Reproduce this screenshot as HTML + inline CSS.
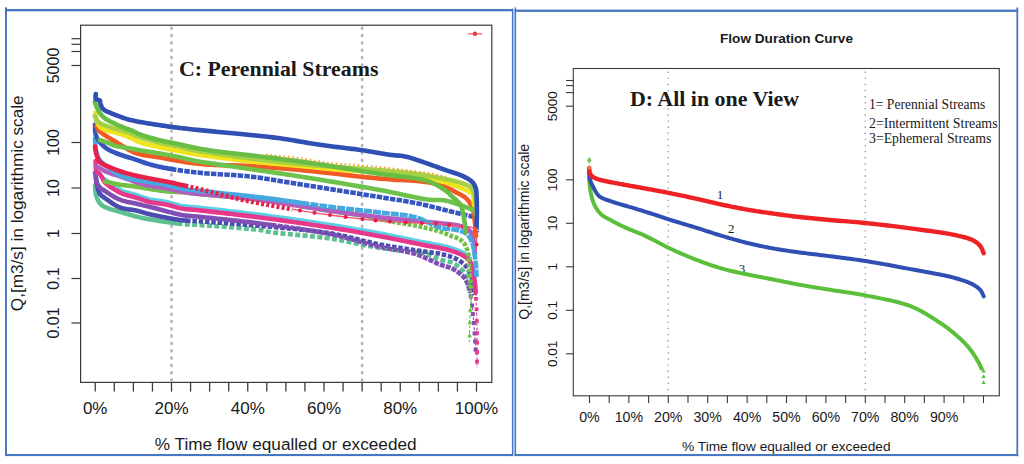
<!DOCTYPE html>
<html><head><meta charset="utf-8"><style>
html,body{margin:0;padding:0;background:#fff;width:1024px;height:464px;overflow:hidden}
svg{display:block}
text{font-family:"Liberation Sans",sans-serif;fill:#1a1a1a}
.lt{font-size:17px;text-anchor:middle}
.lyt{font-size:16px;text-anchor:middle}
.lyT{font-size:17.2px;text-anchor:middle}
.lxT{font-size:17.2px;text-anchor:middle}
.rt{font-size:14.2px;text-anchor:middle}
.ryt{font-size:13.6px;text-anchor:middle}
.ryT{font-size:14px;text-anchor:middle}
.rxT{font-size:13.7px;text-anchor:middle}
.ft{font-size:13.6px;font-weight:bold;text-anchor:middle}
.ttl{font-family:"Liberation Serif",serif;font-weight:bold;font-size:21.85px}
.ttl2{font-family:"Liberation Serif",serif;font-weight:bold;font-size:21.9px}
.lg{font-family:"Liberation Serif",serif;font-size:13.6px}
.num{font-family:"Liberation Serif",serif;font-size:13px;text-anchor:middle}
</style></head><body>
<svg width="1024" height="464" viewBox="0 0 1024 464">
<rect width="1024" height="464" fill="#fff"/>

<rect x="5" y="7.3" width="2" height="448.7" fill="#4677c3"/>
<rect x="5" y="9" width="508" height="2.3" fill="#4677c3"/>
<rect x="5" y="454" width="508" height="2.1" fill="#4677c3"/>
<rect x="511.9" y="8.5" width="1.3" height="447.6" fill="#4677c3"/>
<rect x="513.2" y="9" width="1.5" height="447" fill="#a9c1e3"/>
<rect x="514.7" y="7.3" width="1.4" height="448.8" fill="#4677c3"/>
<rect x="514.7" y="9.6" width="503.5" height="2.3" fill="#4677c3"/>
<rect x="514.7" y="454" width="503.5" height="2.1" fill="#4677c3"/>
<rect x="1016.4" y="7.5" width="1.8" height="448.6" fill="#4677c3"/>

<rect x="80.6" y="25.2" width="411.2" height="357.2" fill="none" stroke="#3a3a3a" stroke-width="1.2"/><line x1="95.25" y1="382" x2="95.25" y2="391.6" stroke="#3a3a3a" stroke-width="1.3"/><line x1="114.31" y1="382" x2="114.31" y2="391.6" stroke="#3a3a3a" stroke-width="1.3"/><line x1="133.38" y1="382" x2="133.38" y2="391.6" stroke="#3a3a3a" stroke-width="1.3"/><line x1="152.44" y1="382" x2="152.44" y2="391.6" stroke="#3a3a3a" stroke-width="1.3"/><line x1="171.50" y1="382" x2="171.50" y2="391.6" stroke="#3a3a3a" stroke-width="1.3"/><line x1="190.56" y1="382" x2="190.56" y2="391.6" stroke="#3a3a3a" stroke-width="1.3"/><line x1="209.62" y1="382" x2="209.62" y2="391.6" stroke="#3a3a3a" stroke-width="1.3"/><line x1="228.69" y1="382" x2="228.69" y2="391.6" stroke="#3a3a3a" stroke-width="1.3"/><line x1="247.75" y1="382" x2="247.75" y2="391.6" stroke="#3a3a3a" stroke-width="1.3"/><line x1="266.81" y1="382" x2="266.81" y2="391.6" stroke="#3a3a3a" stroke-width="1.3"/><line x1="285.88" y1="382" x2="285.88" y2="391.6" stroke="#3a3a3a" stroke-width="1.3"/><line x1="304.94" y1="382" x2="304.94" y2="391.6" stroke="#3a3a3a" stroke-width="1.3"/><line x1="324.00" y1="382" x2="324.00" y2="391.6" stroke="#3a3a3a" stroke-width="1.3"/><line x1="343.06" y1="382" x2="343.06" y2="391.6" stroke="#3a3a3a" stroke-width="1.3"/><line x1="362.12" y1="382" x2="362.12" y2="391.6" stroke="#3a3a3a" stroke-width="1.3"/><line x1="381.19" y1="382" x2="381.19" y2="391.6" stroke="#3a3a3a" stroke-width="1.3"/><line x1="400.25" y1="382" x2="400.25" y2="391.6" stroke="#3a3a3a" stroke-width="1.3"/><line x1="419.31" y1="382" x2="419.31" y2="391.6" stroke="#3a3a3a" stroke-width="1.3"/><line x1="438.38" y1="382" x2="438.38" y2="391.6" stroke="#3a3a3a" stroke-width="1.3"/><line x1="457.44" y1="382" x2="457.44" y2="391.6" stroke="#3a3a3a" stroke-width="1.3"/><line x1="476.50" y1="382" x2="476.50" y2="391.6" stroke="#3a3a3a" stroke-width="1.3"/><text x="95.2" y="414.3" class="lt">0%</text><text x="171.5" y="414.3" class="lt">20%</text><text x="247.8" y="414.3" class="lt">40%</text><text x="324.0" y="414.3" class="lt">60%</text><text x="400.2" y="414.3" class="lt">80%</text><text x="476.5" y="414.3" class="lt">100%</text><line x1="71.5" y1="38.7" x2="80.6" y2="38.7" stroke="#3a3a3a" stroke-width="1.2"/><line x1="71.5" y1="44.3" x2="80.6" y2="44.3" stroke="#3a3a3a" stroke-width="1.2"/><line x1="71.5" y1="51.5" x2="80.6" y2="51.5" stroke="#3a3a3a" stroke-width="1.2"/><line x1="71.5" y1="65.5" x2="80.6" y2="65.5" stroke="#3a3a3a" stroke-width="1.2"/><line x1="71.5" y1="142.5" x2="80.6" y2="142.5" stroke="#3a3a3a" stroke-width="1.2"/><line x1="71.5" y1="188" x2="80.6" y2="188" stroke="#3a3a3a" stroke-width="1.2"/><line x1="71.5" y1="233.5" x2="80.6" y2="233.5" stroke="#3a3a3a" stroke-width="1.2"/><line x1="71.5" y1="278.5" x2="80.6" y2="278.5" stroke="#3a3a3a" stroke-width="1.2"/><line x1="71.5" y1="323" x2="80.6" y2="323" stroke="#3a3a3a" stroke-width="1.2"/><text transform="translate(59.3,65.5) rotate(-90)" class="lyt">5000</text><text transform="translate(59.3,142.5) rotate(-90)" class="lyt">100</text><text transform="translate(59.3,188) rotate(-90)" class="lyt">10</text><text transform="translate(59.3,233.5) rotate(-90)" class="lyt">1</text><text transform="translate(59.3,278.5) rotate(-90)" class="lyt">0.1</text><text transform="translate(59.3,323) rotate(-90)" class="lyt">0.01</text><text transform="translate(23,203.3) rotate(-90)" class="lyT">Q,[m3/s] in logarithmic scale</text><text x="285.7" y="449.8" class="lxT">% Time flow equalled or exceeded</text><line x1="171.5" y1="380.6" x2="171.5" y2="26" stroke="#b4b4b4" stroke-width="2.7" stroke-linecap="round" stroke-dasharray="0.9,6.43"/><line x1="362.1" y1="380.6" x2="362.1" y2="26" stroke="#b4b4b4" stroke-width="2.7" stroke-linecap="round" stroke-dasharray="0.9,6.43"/><text x="179" y="76.2" class="ttl">C: Perennial Streams</text><line x1="468" y1="33.8" x2="482" y2="33.8" stroke="#f08070" stroke-width="1.6"/><circle cx="475" cy="33.8" r="2.2" fill="#e83838"/><rect x="573.3" y="68.5" width="426" height="327.3" fill="none" stroke="#3a3a3a" stroke-width="1.1"/><line x1="589.5" y1="395.8" x2="589.5" y2="403" stroke="#3a3a3a" stroke-width="1.1"/><line x1="609.2" y1="395.8" x2="609.2" y2="403" stroke="#3a3a3a" stroke-width="1.1"/><line x1="628.9" y1="395.8" x2="628.9" y2="403" stroke="#3a3a3a" stroke-width="1.1"/><line x1="648.6" y1="395.8" x2="648.6" y2="403" stroke="#3a3a3a" stroke-width="1.1"/><line x1="668.3" y1="395.8" x2="668.3" y2="403" stroke="#3a3a3a" stroke-width="1.1"/><line x1="688.0" y1="395.8" x2="688.0" y2="403" stroke="#3a3a3a" stroke-width="1.1"/><line x1="707.7" y1="395.8" x2="707.7" y2="403" stroke="#3a3a3a" stroke-width="1.1"/><line x1="727.4" y1="395.8" x2="727.4" y2="403" stroke="#3a3a3a" stroke-width="1.1"/><line x1="747.1" y1="395.8" x2="747.1" y2="403" stroke="#3a3a3a" stroke-width="1.1"/><line x1="766.8" y1="395.8" x2="766.8" y2="403" stroke="#3a3a3a" stroke-width="1.1"/><line x1="786.5" y1="395.8" x2="786.5" y2="403" stroke="#3a3a3a" stroke-width="1.1"/><line x1="806.2" y1="395.8" x2="806.2" y2="403" stroke="#3a3a3a" stroke-width="1.1"/><line x1="825.9" y1="395.8" x2="825.9" y2="403" stroke="#3a3a3a" stroke-width="1.1"/><line x1="845.6" y1="395.8" x2="845.6" y2="403" stroke="#3a3a3a" stroke-width="1.1"/><line x1="865.3" y1="395.8" x2="865.3" y2="403" stroke="#3a3a3a" stroke-width="1.1"/><line x1="885.0" y1="395.8" x2="885.0" y2="403" stroke="#3a3a3a" stroke-width="1.1"/><line x1="904.7" y1="395.8" x2="904.7" y2="403" stroke="#3a3a3a" stroke-width="1.1"/><line x1="924.4" y1="395.8" x2="924.4" y2="403" stroke="#3a3a3a" stroke-width="1.1"/><line x1="944.1" y1="395.8" x2="944.1" y2="403" stroke="#3a3a3a" stroke-width="1.1"/><line x1="963.8" y1="395.8" x2="963.8" y2="403" stroke="#3a3a3a" stroke-width="1.1"/><line x1="983.5" y1="395.8" x2="983.5" y2="403" stroke="#3a3a3a" stroke-width="1.1"/><text x="589.5" y="422.3" class="rt">0%</text><text x="628.9" y="422.3" class="rt">10%</text><text x="668.3" y="422.3" class="rt">20%</text><text x="707.7" y="422.3" class="rt">30%</text><text x="747.1" y="422.3" class="rt">40%</text><text x="786.5" y="422.3" class="rt">50%</text><text x="825.9" y="422.3" class="rt">60%</text><text x="865.3" y="422.3" class="rt">70%</text><text x="904.7" y="422.3" class="rt">80%</text><text x="944.1" y="422.3" class="rt">90%</text><line x1="566" y1="80.5" x2="573.3" y2="80.5" stroke="#3a3a3a" stroke-width="1.1"/><line x1="566" y1="85.6" x2="573.3" y2="85.6" stroke="#3a3a3a" stroke-width="1.1"/><line x1="566" y1="92.6" x2="573.3" y2="92.6" stroke="#3a3a3a" stroke-width="1.1"/><line x1="566" y1="106.2" x2="573.3" y2="106.2" stroke="#3a3a3a" stroke-width="1.1"/><line x1="566" y1="179.8" x2="573.3" y2="179.8" stroke="#3a3a3a" stroke-width="1.1"/><line x1="566" y1="223.3" x2="573.3" y2="223.3" stroke="#3a3a3a" stroke-width="1.1"/><line x1="566" y1="266.8" x2="573.3" y2="266.8" stroke="#3a3a3a" stroke-width="1.1"/><line x1="566" y1="310.3" x2="573.3" y2="310.3" stroke="#3a3a3a" stroke-width="1.1"/><line x1="566" y1="353.8" x2="573.3" y2="353.8" stroke="#3a3a3a" stroke-width="1.1"/><text transform="translate(556.5,106.2) rotate(-90)" class="ryt">5000</text><text transform="translate(556.5,179.8) rotate(-90)" class="ryt">100</text><text transform="translate(556.5,223.3) rotate(-90)" class="ryt">10</text><text transform="translate(556.5,266.8) rotate(-90)" class="ryt">1</text><text transform="translate(556.5,310.3) rotate(-90)" class="ryt">0.1</text><text transform="translate(556.5,353.8) rotate(-90)" class="ryt">0.01</text><text transform="translate(529,231.8) rotate(-90)" class="ryT">Q,[m3/s] in logarithmic scale</text><text x="786.3" y="451.2" class="rxT">% Time flow equalled or exceeded</text><line x1="668.3" y1="390.2" x2="668.3" y2="69.5" stroke="#a0a0a0" stroke-width="1.4" stroke-dasharray="1.4,4.7"/><line x1="865.3" y1="390.2" x2="865.3" y2="69.5" stroke="#a0a0a0" stroke-width="1.4" stroke-dasharray="1.4,4.7"/><text x="786.5" y="43.4" class="ft">Flow Duration Curve</text><text x="630" y="105.8" class="ttl2">D: All in one View</text><text x="869" y="108.7" class="lg">1= Perennial Streams</text><text x="869" y="128.1" class="lg" style="font-size:13.9px">2=Intermittent Streams</text><text x="869" y="143.3" class="lg" style="font-size:13.8px">3=Ephemeral Streams</text><text x="720" y="199.4" class="num">1</text><text x="731.3" y="232.5" class="num">2</text><text x="742" y="272.5" class="num">3</text>
<g><path d="M95.00,185.30 L95.11,186.25 L95.20,187.21 L95.28,188.18 L95.35,189.16 L95.42,190.14 L95.50,191.11 L95.59,192.07 L95.71,193.02 L95.85,193.95 L96.02,194.86 L96.24,195.75 L96.50,196.60 L96.77,197.36 L97.07,198.12 L97.39,198.86 L97.73,199.60 L98.09,200.32 L98.48,201.03 L98.89,201.71 L99.32,202.37 L99.78,203.00 L100.26,203.60 L100.77,204.17 L101.30,204.70 L101.85,205.18 L102.44,205.62 L103.06,206.02 L103.70,206.40 L104.36,206.75 L105.05,207.07 L105.75,207.38 L106.47,207.67 L107.19,207.96 L107.93,208.24 L108.66,208.52 L109.40,208.80 L110.21,209.10 L111.04,209.38 L111.88,209.64 L112.72,209.89 L113.58,210.13 L114.46,210.35 L115.34,210.58 L116.24,210.80 L117.16,211.04 L118.09,211.28 L119.04,211.53 L120.00,211.80 L121.22,212.16 L122.48,212.54 L123.77,212.93 L125.09,213.34 L126.43,213.75 L127.79,214.17 L129.16,214.59 L130.53,215.00 L131.91,215.40 L133.29,215.79 L134.65,216.16 L136.00,216.50 L137.31,216.82 L138.60,217.12 L139.87,217.40 L141.13,217.67 L142.40,217.94 L143.67,218.19 L144.96,218.44 L146.28,218.69 L147.64,218.94 L149.04,219.19 L150.49,219.44 L152.00,219.70 L154.20,220.07 L156.56,220.46 L159.05,220.86 L161.64,221.27 L164.30,221.68 L166.99,222.08 L169.68,222.46 L172.34,222.83 L174.93,223.18 L177.43,223.49" fill="none" stroke="#5cc090" stroke-width="4.6" stroke-linecap="round" stroke-linejoin="round"/>
<path d="M177.43,223.49 L179.79,223.77 L182.00,224.00 L183.47,224.14 L184.83,224.25 L186.10,224.33 L187.31,224.40 L188.49,224.45 L189.66,224.50 L190.84,224.54 L192.08,224.59 L193.38,224.64 L194.79,224.71 L196.32,224.79 L198.00,224.90 L201.92,225.17 L206.61,225.50 L211.90,225.87 L217.64,226.28 L223.66,226.72 L229.79,227.19 L235.88,227.67 L241.77,228.15 L247.29,228.64 L252.27,229.11 L256.56,229.57 L260.00,230.00 L261.11,230.17 L262.07,230.33 L262.91,230.49 L263.66,230.65 L264.35,230.82 L265.01,230.98 L265.67,231.14 L266.36,231.31 L267.10,231.47 L267.94,231.64 L268.90,231.82 L270.00,232.00 L273.25,232.45 L277.14,232.90 L281.58,233.37 L286.47,233.85 L291.71,234.34 L297.20,234.85 L302.85,235.39 L308.56,235.95 L314.22,236.54 L319.75,237.16 L325.04,237.81 L330.00,238.50 L334.34,239.18 L338.63,239.93 L342.87,240.72 L347.08,241.54 L351.25,242.39 L355.39,243.25 L359.51,244.11 L363.61,244.96 L367.71,245.78 L371.80,246.57 L375.89,247.31 L380.00,248.00 L384.05,248.59 L388.25,249.12 L392.54,249.59 L396.87,250.03 L401.19,250.44 L405.45,250.85 L409.61,251.27 L413.60,251.71 L417.39,252.19 L420.92,252.72 L424.14,253.32 L427.00,254.00 L428.40,254.42 L429.69,254.87 L430.89,255.34 L432.01,255.84 L433.07,256.35 L434.09,256.86 L435.07,257.36 L436.03,257.86 L436.99,258.34 L437.96,258.80 L438.96,259.22 L440.00,259.60 L440.99,259.91 L441.99,260.17 L442.99,260.41 L444.00,260.62 L445.00,260.82 L446.00,261.01 L446.99,261.20 L447.96,261.40 L448.91,261.62 L449.84,261.88 L450.74,262.17 L451.60,262.50 L452.33,262.83 L453.05,263.17 L453.75,263.52 L454.44,263.90 L455.11,264.29 L455.77,264.69 L456.41,265.11 L457.03,265.54 L457.65,265.99 L458.24,266.45 L458.83,266.92 L459.40,267.40 L459.94,267.88 L460.47,268.37 L460.98,268.87 L461.48,269.38 L461.97,269.91 L462.44,270.45 L462.90,271.00 L463.35,271.57 L463.78,272.15 L464.20,272.75 L464.61,273.37 L465.00,274.00 L465.42,274.73 L465.82,275.49 L466.20,276.28 L466.57,277.08 L466.92,277.91 L467.25,278.75 L467.57,279.61 L467.87,280.47 L468.17,281.35 L468.45,282.23 L468.73,283.12 L469.00,284.00 L469.27,284.95 L469.52,285.92 L469.75,286.90 L469.97,287.90 L470.17,288.90 L470.36,289.91 L470.55,290.93 L470.73,291.95 L470.92,292.97 L471.10,293.98 L471.30,295.00 L471.50,296.00" fill="none" stroke="#5cc090" stroke-width="4.6" stroke-linecap="butt" stroke-linejoin="round" stroke-dasharray="5,2.4"/>
<path d="M96.00,178.00 L96.04,178.33 L96.07,178.64 L96.10,178.95 L96.13,179.26 L96.16,179.57 L96.19,179.88 L96.22,180.19 L96.26,180.52 L96.30,180.86 L96.36,181.22 L96.42,181.60 L96.50,182.00 L96.65,182.77 L96.81,183.63 L96.98,184.57 L97.17,185.57 L97.38,186.61 L97.62,187.67 L97.88,188.73 L98.17,189.77 L98.49,190.78 L98.86,191.73 L99.26,192.61 L99.70,193.40 L100.11,194.00 L100.55,194.55 L101.01,195.05 L101.50,195.53 L102.01,195.98 L102.55,196.41 L103.10,196.82 L103.68,197.24 L104.28,197.65 L104.90,198.08 L105.54,198.53 L106.20,199.00 L107.15,199.69 L108.15,200.43 L109.20,201.19 L110.30,201.97 L111.44,202.75 L112.61,203.54 L113.81,204.30 L115.03,205.04 L116.27,205.74 L117.51,206.39 L118.76,206.98 L120.00,207.50 L121.26,207.94 L122.54,208.31 L123.85,208.61 L125.18,208.86 L126.52,209.08 L127.87,209.27 L129.23,209.44 L130.60,209.61 L131.96,209.79 L133.32,209.99 L134.66,210.22 L136.00,210.50 L137.32,210.81 L138.61,211.15 L139.89,211.49 L141.15,211.85 L142.41,212.21 L143.68,212.59 L144.97,212.96 L146.29,213.34 L147.64,213.71 L149.03,214.08 L150.49,214.45 L152.00,214.80 L154.19,215.28 L156.55,215.78 L159.04,216.29 L161.63,216.81 L164.29,217.32 L166.98,217.82 L169.67,218.31 L172.33,218.76 L174.92,219.19 L177.42,219.58 L179.79,219.91 L182.00,220.20 L183.47,220.37 L184.83,220.50 L186.10,220.60" fill="none" stroke="#4a4cb0" stroke-width="4.6" stroke-linecap="round" stroke-linejoin="round"/>
<path d="M186.10,220.60 L187.31,220.68 L188.48,220.74 L189.65,220.80 L190.84,220.84 L192.07,220.89 L193.38,220.94 L194.79,221.01 L196.32,221.09 L198.00,221.20 L201.74,221.45 L205.95,221.74 L210.57,222.05 L215.54,222.39 L220.78,222.75 L226.24,223.13 L231.86,223.54 L237.56,223.96 L243.29,224.40 L248.99,224.86 L254.58,225.32 L260.00,225.80 L265.73,226.31 L271.57,226.82 L277.50,227.34 L283.48,227.88 L289.50,228.43 L295.51,229.00 L301.49,229.61 L307.42,230.25 L313.27,230.93 L319.00,231.67 L324.58,232.45 L330.00,233.30 L334.48,234.09 L338.86,234.95 L343.15,235.87 L347.37,236.84 L351.52,237.83 L355.62,238.84 L359.69,239.86 L363.74,240.86 L367.78,241.84 L371.83,242.79 L375.90,243.68 L380.00,244.50 L384.08,245.26 L388.31,246.00 L392.63,246.73 L396.99,247.44 L401.35,248.13 L405.65,248.79 L409.85,249.42 L413.88,250.01 L417.70,250.57 L421.26,251.09 L424.51,251.57 L427.40,252.00 L428.73,252.19 L429.95,252.35 L431.09,252.49 L432.16,252.62 L433.17,252.73 L434.14,252.84 L435.08,252.96 L436.02,253.08 L436.96,253.22 L437.93,253.38 L438.94,253.57 L440.00,253.80 L441.26,254.09 L442.56,254.39 L443.88,254.71 L445.23,255.06 L446.59,255.42 L447.95,255.80 L449.29,256.21 L450.61,256.64 L451.91,257.09 L453.16,257.57 L454.36,258.07 L455.50,258.60 L456.44,259.07 L457.36,259.56 L458.26,260.07 L459.14,260.60 L460.00,261.15 L460.84,261.71 L461.64,262.28 L462.42,262.88 L463.17,263.49 L463.88,264.11 L464.56,264.75 L465.20,265.40 L465.73,265.99 L466.22,266.59 L466.69,267.20 L467.13,267.82 L467.54,268.46 L467.94,269.11 L468.31,269.77 L468.67,270.43 L469.02,271.11 L469.35,271.80 L469.68,272.50 L470.00,273.20 L470.33,273.95 L470.64,274.71 L470.93,275.49 L471.21,276.27 L471.48,277.07 L471.73,277.87 L471.97,278.69 L472.19,279.52 L472.41,280.35 L472.61,281.19 L472.81,282.04 L473.00,282.90 L473.19,283.85 L473.36,284.83 L473.51,285.82 L473.64,286.82 L473.76,287.83 L473.87,288.85 L473.97,289.88 L474.07,290.91 L474.17,291.94 L474.27,292.97 L474.38,293.99 L474.50,295.00" fill="none" stroke="#4a4cb0" stroke-width="4.6" stroke-linecap="butt" stroke-linejoin="round" stroke-dasharray="4.5,1.8"/>
<path d="M95.00,172.40 L95.23,173.49 L95.42,174.62 L95.60,175.76 L95.76,176.92 L95.92,178.07 L96.09,179.22 L96.28,180.34 L96.51,181.44 L96.79,182.49 L97.12,183.49 L97.52,184.43 L98.00,185.30 L98.49,186.01 L99.03,186.65 L99.62,187.26 L100.25,187.82 L100.91,188.34 L101.61,188.85 L102.33,189.33 L103.08,189.81 L103.84,190.29 L104.62,190.78 L105.41,191.28 L106.20,191.80 L107.20,192.48 L108.24,193.17 L109.32,193.88 L110.43,194.59 L111.56,195.30 L112.73,196.01 L113.91,196.70 L115.11,197.37 L116.32,198.01 L117.54,198.62 L118.77,199.18 L120.00,199.70 L121.26,200.17 L122.55,200.59 L123.86,200.97 L125.19,201.31 L126.53,201.63 L127.88,201.92 L129.23,202.19 L130.59,202.46 L131.95,202.73 L133.31,203.00 L134.66,203.29 L136.00,203.60 L137.32,203.92 L138.61,204.22 L139.88,204.52 L141.15,204.82 L142.42,205.12 L143.69,205.41 L144.98,205.72 L146.30,206.03 L147.65,206.35 L149.05,206.68 L150.49,207.03 L152.00,207.40 L154.20,207.96 L156.57,208.58 L159.06,209.25 L161.65,209.96 L164.30,210.69 L166.98,211.42 L169.67,212.14 L172.33,212.83 L174.92,213.47 L177.42,214.06 L179.79,214.58 L182.00,215.00 L183.47,215.24 L184.82,215.44 L186.09,215.60 L187.30,215.73 L188.47,215.83 L189.64,215.92 L190.83,216.01 L192.07,216.09 L193.38,216.19 L194.78,216.30 L196.32,216.43 L198.00,216.60 L201.74,216.99 L205.95,217.43 L210.57,217.91 L215.54,218.43 L220.78,218.98 L226.25,219.56 L231.86,220.17 L237.57,220.80 L243.30,221.46 L248.99,222.13 L254.58,222.81 L260.00,223.50 L265.73,224.25 L271.57,225.00" fill="none" stroke="#7f4fb4" stroke-width="4.6" stroke-linecap="round" stroke-linejoin="round"/>
<path d="M271.57,225.00 L277.50,225.78 L283.49,226.58 L289.50,227.39 L295.52,228.24 L301.50,229.11 L307.43,230.01 L313.27,230.95 L319.00,231.93 L324.59,232.94 L330.00,234.00 L334.51,234.96 L338.95,236.00 L343.33,237.08 L347.64,238.21 L351.89,239.36 L356.08,240.52 L360.20,241.68 L364.27,242.82 L368.29,243.93 L372.25,244.99 L376.15,245.98 L380.00,246.90 L383.19,247.59 L386.36,248.21 L389.48,248.78 L392.58,249.31 L395.63,249.82 L398.64,250.31 L401.60,250.82 L404.51,251.35 L407.37,251.91 L410.17,252.53 L412.92,253.22 L415.60,254.00 L417.86,254.75 L420.09,255.58 L422.30,256.47 L424.47,257.41 L426.60,258.38 L428.69,259.36 L430.73,260.33 L432.72,261.28 L434.64,262.19 L436.50,263.04 L438.29,263.82 L440.00,264.50 L441.12,264.90 L442.20,265.27 L443.25,265.59 L444.27,265.89 L445.26,266.17 L446.22,266.44 L447.17,266.71 L448.09,266.99 L448.99,267.27 L449.88,267.58 L450.74,267.92 L451.60,268.30 L452.33,268.65 L453.04,269.02 L453.74,269.39 L454.42,269.78 L455.09,270.17 L455.74,270.58 L456.38,270.99 L457.00,271.42 L457.62,271.85 L458.22,272.29 L458.82,272.74 L459.40,273.20 L459.94,273.64 L460.48,274.07 L461.01,274.51 L461.53,274.95 L462.04,275.40 L462.53,275.86 L463.02,276.34 L463.49,276.83 L463.94,277.34 L464.38,277.87 L464.80,278.42 L465.20,279.00 L465.63,279.69 L466.04,280.42 L466.42,281.18 L466.78,281.98 L467.12,282.79 L467.45,283.62 L467.76,284.47 L468.05,285.32 L468.33,286.18 L468.60,287.03 L468.85,287.87 L469.10,288.70 L469.32,289.48 L469.53,290.25 L469.71,291.00 L469.88,291.75 L470.03,292.49" fill="none" stroke="#7f4fb4" stroke-width="4.6" stroke-linecap="butt" stroke-linejoin="round" stroke-dasharray="5,1.2"/>
<path d="M470.03,292.49 L470.17,293.25 L470.31,294.02 L470.44,294.82 L470.58,295.65 L470.71,296.52 L470.85,297.43 L471.00,298.40 L471.24,300.04 L471.49,301.81 L471.74,303.68 L471.98,305.64 L472.23,307.68 L472.47,309.79 L472.70,311.94 L472.94,314.14 L473.16,316.35 L473.38,318.58 L473.60,320.80 L473.80,323.00 L474.02,325.52 L474.23,328.09 L474.42,330.70 L474.61,333.35 L474.79,336.03 L474.97,338.73 L475.14,341.45 L475.31,344.18 L475.47,346.90 L475.65,349.62 L475.82,352.32 L476.00,355.00" fill="none" stroke="#7f4fb4" stroke-width="1.1" stroke-dasharray="3,2"/>
<rect x="468.7" y="294.5" width="4.0" height="4.0" fill="#7f4fb4"/>
<rect x="470.0" y="303.6" width="4.0" height="4.0" fill="#7f4fb4"/>
<rect x="470.9" y="312.1" width="4.0" height="4.0" fill="#7f4fb4"/>
<rect x="471.8" y="321.0" width="4.0" height="4.0" fill="#7f4fb4"/>
<rect x="472.6" y="331.4" width="4.0" height="4.0" fill="#7f4fb4"/>
<rect x="473.1" y="339.5" width="4.0" height="4.0" fill="#7f4fb4"/>
<rect x="473.6" y="347.6" width="4.0" height="4.0" fill="#7f4fb4"/>
<path d="M104.60,179.40 L105.88,180.30 L107.15,181.23 L108.41,182.18 L109.68,183.14 L110.94,184.09 L112.20,185.04 L113.47,185.97 L114.75,186.87 L116.04,187.73 L117.34,188.55 L118.66,189.31 L120.00,190.00 L121.29,190.59 L122.60,191.12 L123.93,191.60 L125.27,192.04 L126.62,192.45 L127.98,192.83 L129.34,193.19 L130.69,193.54 L132.04,193.89 L133.38,194.24 L134.70,194.61 L136.00,195.00 L137.20,195.38 L138.37,195.77 L139.54,196.17 L140.69,196.56 L141.84,196.95 L142.98,197.34 L144.13,197.72 L145.28,198.09 L146.44,198.44 L147.61,198.78 L148.79,199.10 L150.00,199.40 L151.29,199.68 L152.59,199.92 L153.91,200.14 L155.24,200.34 L156.58,200.52 L157.93,200.69 L159.28,200.86 L160.63,201.03 L161.98,201.22 L163.33,201.42 L164.67,201.64 L166.00,201.90 L167.34,202.19 L168.67,202.52 L170.01,202.87 L171.34,203.24 L172.67,203.62 L174.00,204.01 L175.33,204.39 L176.66,204.76 L177.99,205.11 L179.32,205.44 L180.66,205.74 L182.00,206.00 L183.29,206.21 L184.53,206.39 L185.74,206.54 L186.93,206.66 L188.12,206.77 L189.34,206.86 L190.58,206.96 L191.89,207.05 L193.26,207.16 L194.73,207.28 L196.30,207.42 L198.00,207.60 L201.74,208.01 L205.95,208.47 L210.57,208.99 L215.54,209.55 L220.78,210.15 L226.24,210.78 L231.86,211.44 L237.57,212.11 L243.30,212.80 L248.99,213.50 L254.58,214.20 L260.00,214.90 L265.73,215.65 L271.56,216.43 L277.49,217.23 L283.47,218.05 L289.48,218.89 L295.48,219.74 L301.47,220.60 L307.39,221.46 L313.24,222.33 L318.97,223.19 L324.57,224.05 L330.00,224.90 L334.47,225.61 L338.84,226.33 L343.13,227.04 L347.35,227.75 L351.51,228.46 L355.62,229.17 L359.70,229.89 L363.76,230.61 L367.80,231.35 L371.85,232.09 L375.91,232.84 L380.00,233.60 L384.09,234.38 L388.33,235.20 L392.66,236.06 L397.02,236.94 L401.38,237.82 L405.68,238.70 L409.87,239.56 L413.89,240.39 L417.71,241.17 L421.27,241.89 L424.51,242.54 L427.40,243.10 L428.73,243.35 L429.97,243.58 L431.13,243.78 L432.22,243.97 L433.25,244.15 L434.24,244.32 L435.20,244.48 L436.14,244.65 L437.08,244.82 L438.03,245.00 L439.00,245.19 L440.00,245.40 L440.99,245.61 L441.97,245.82 L442.94,246.04 L443.92,246.25 L444.88,246.47 L445.85,246.70 L446.81,246.93 L447.77,247.18 L448.73,247.44 L449.69,247.71 L450.64,248.00 L451.60,248.30 L452.60,248.63 L453.61,248.97 L454.64,249.32 L455.67,249.68 L456.70,250.05 L457.72,250.44 L458.72,250.84 L459.71,251.26 L460.66,251.69 L461.59,252.14 L462.47,252.61 L463.30,253.10 L463.96,253.53 L464.58,253.97 L465.17,254.44 L465.74,254.91 L466.29,255.40 L466.83,255.90 L467.35,256.40 L467.87,256.91 L468.39,257.41 L468.92,257.91 L469.45,258.41 L470.00,258.90" fill="none" stroke="#5ad0e6" stroke-width="4.6" stroke-linecap="round" stroke-linejoin="round"/>
<path d="M95.60,161.00 L95.66,161.83 L95.70,162.68 L95.72,163.56 L95.73,164.45 L95.75,165.34 L95.77,166.21 L95.81,167.07 L95.87,167.90 L95.96,168.68 L96.09,169.42 L96.27,170.09 L96.50,170.70 L96.70,171.07 L96.92,171.41 L97.17,171.71 L97.44,172.00 L97.72,172.26 L98.02,172.51 L98.31,172.75 L98.61,172.99 L98.90,173.23 L99.19,173.47 L99.45,173.73 L99.70,174.00 L99.91,174.26 L100.12,174.52 L100.32,174.77 L100.52,175.03 L100.71,175.28 L100.90,175.54 L101.08,175.80 L101.26,176.07 L101.45,176.34 L101.63,176.62 L101.81,176.90 L102.00,177.20 L102.21,177.56 L102.39,177.93 L102.56,178.31 L102.73,178.69 L102.89,179.09 L103.06,179.49 L103.24,179.90 L103.44,180.31 L103.67,180.73 L103.94,181.15 L104.24,181.57 L104.60,182.00 L105.40,182.82 L106.35,183.70 L107.45,184.62 L108.66,185.57 L109.96,186.54 L111.34,187.50 L112.78,188.46 L114.24,189.39 L115.72,190.28 L117.19,191.12 L118.62,191.90 L120.00,192.60 L121.29,193.19 L122.60,193.72 L123.93,194.20 L125.27,194.64 L126.62,195.05 L127.98,195.43 L129.34,195.79 L130.69,196.14 L132.04,196.49 L133.38,196.84 L134.70,197.21 L136.00,197.60 L137.20,197.98 L138.37,198.37 L139.54,198.77 L140.69,199.16 L141.84,199.55 L142.98,199.94 L144.13,200.32 L145.28,200.69 L146.44,201.04 L147.61,201.38 L148.79,201.70 L150.00,202.00 L151.29,202.28 L152.59,202.52 L153.91,202.74 L155.24,202.94 L156.58,203.12 L157.93,203.29 L159.28,203.46 L160.63,203.63 L161.98,203.82 L163.33,204.02 L164.67,204.24 L166.00,204.50 L167.34,204.79 L168.67,205.12 L170.01,205.47 L171.34,205.84 L172.67,206.22 L174.00,206.61 L175.33,206.99 L176.66,207.36 L177.99,207.71 L179.32,208.04 L180.66,208.34 L182.00,208.60 L183.29,208.81 L184.53,208.99 L185.74,209.14 L186.93,209.26 L188.12,209.37 L189.34,209.46 L190.58,209.56 L191.89,209.65 L193.26,209.76 L194.73,209.88 L196.30,210.02 L198.00,210.20 L201.74,210.61 L205.95,211.07 L210.57,211.59 L215.54,212.15 L220.78,212.75 L226.24,213.38 L231.86,214.04 L237.57,214.71 L243.30,215.40 L248.99,216.10 L254.58,216.80 L260.00,217.50 L265.73,218.25 L271.56,219.03 L277.49,219.83 L283.47,220.65 L289.48,221.49 L295.48,222.34 L301.47,223.20 L307.39,224.06 L313.24,224.93 L318.97,225.79 L324.57,226.65 L330.00,227.50 L334.47,228.21 L338.84,228.93 L343.13,229.64 L347.35,230.35 L351.51,231.06 L355.62,231.77 L359.70,232.49 L363.76,233.21 L367.80,233.95 L371.85,234.69 L375.91,235.44 L380.00,236.20 L384.09,236.98 L388.33,237.80 L392.66,238.66 L397.02,239.54 L401.38,240.42 L405.68,241.30 L409.87,242.16 L413.89,242.99 L417.71,243.77 L421.27,244.49 L424.51,245.14 L427.40,245.70 L428.73,245.95 L429.97,246.18 L431.13,246.38 L432.22,246.57 L433.25,246.75 L434.24,246.92 L435.20,247.08 L436.14,247.25 L437.08,247.42 L438.03,247.60 L439.00,247.79 L440.00,248.00 L440.99,248.21 L441.97,248.42 L442.94,248.64 L443.92,248.85 L444.88,249.07 L445.85,249.30 L446.81,249.53 L447.77,249.78 L448.73,250.04 L449.69,250.31 L450.64,250.60 L451.60,250.90 L452.60,251.23 L453.61,251.57 L454.64,251.92 L455.67,252.28 L456.70,252.65 L457.72,253.04 L458.72,253.44 L459.71,253.86 L460.66,254.29 L461.59,254.74 L462.47,255.21 L463.30,255.70 L463.97,256.12 L464.62,256.54 L465.26,256.96 L465.88,257.40 L466.48,257.84 L467.06,258.30 L467.62,258.78 L468.15,259.27 L468.66,259.79 L469.13,260.33 L469.58,260.90 L470.00,261.50 L470.40,262.18 L470.76,262.90 L471.08,263.65 L471.36,264.43 L471.62,265.23 L471.84,266.06 L472.05,266.90 L472.25,267.75 L472.44,268.61 L472.62,269.48 L472.81,270.34 L473.00,271.20 L473.21,272.13 L473.41,273.07 L473.59,274.01 L473.77,274.97 L473.94,275.94 L474.10,276.91 L474.25,277.89 L474.39,278.88 L474.52,279.88 L474.65,280.88 L474.78,281.89 L474.90,282.90 L475.02,283.98 L475.13,285.03 L475.23,286.08 L475.32,287.13 L475.40,288.18 L475.48,289.25 L475.55,290.35 L475.62,291.48 L475.69,292.65" fill="none" stroke="#e8388c" stroke-width="4.6" stroke-linecap="round" stroke-linejoin="round"/>
<path d="M475.69,292.65 L475.76,293.87 L475.83,295.15 L475.90,296.50 L476.02,298.76 L476.13,301.20 L476.24,303.78 L476.35,306.49 L476.45,309.30 L476.55,312.19 L476.65,315.14 L476.73,318.13 L476.81,321.13 L476.88,324.12 L476.95,327.09 L477.00,330.00 L477.04,333.08 L477.07,336.19 L477.08,339.33 L477.09,342.49 L477.09,345.66 L477.08,348.85 L477.06,352.04 L477.04,355.24 L477.03,358.44 L477.01,361.64 L477.00,364.83 L477.00,368.00" fill="none" stroke="#e8388c" stroke-width="1.1" stroke-dasharray="3,2"/>
<rect x="474.1" y="296.9" width="3.8" height="3.8" fill="#e8388c"/>
<rect x="474.6" y="307.4" width="3.8" height="3.8" fill="#e8388c"/>
<rect x="474.9" y="319.2" width="3.8" height="3.8" fill="#e8388c"/>
<rect x="475.1" y="331.2" width="3.8" height="3.8" fill="#e8388c"/>
<rect x="475.2" y="340.6" width="3.8" height="3.8" fill="#e8388c"/>
<rect x="475.2" y="350.1" width="3.8" height="3.8" fill="#e8388c"/>
<rect x="475.1" y="359.7" width="3.8" height="3.8" fill="#e8388c"/>
<path d="M105.00,181.50 L106.25,181.77 L107.49,182.05 L108.74,182.33 L109.98,182.62 L111.22,182.90 L112.46,183.18 L113.71,183.46 L114.96,183.73 L116.21,183.99 L117.47,184.24 L118.73,184.48 L120.00,184.70 L121.31,184.91 L122.64,185.09 L123.98,185.26 L125.33,185.41 L126.68,185.56 L128.03,185.70 L129.38,185.83 L130.73,185.97 L132.06,186.11 L133.39,186.26 L134.70,186.42 L136.00,186.60 L137.20,186.78 L138.38,186.97 L139.55,187.16 L140.70,187.36 L141.85,187.57 L143.00,187.78 L144.15,187.99 L145.30,188.20 L146.46,188.40 L147.62,188.61 L148.80,188.81 L150.00,189.00 L151.29,189.21 L152.60,189.42 L153.92,189.63 L155.25,189.84 L156.59,190.05 L157.93,190.25 L159.27,190.45 L160.62,190.65 L161.97,190.83 L163.32,191.00 L164.66,191.16 L166.00,191.30 L167.33,191.42 L168.66,191.52 L170.00,191.60 L171.33,191.67 L172.66,191.73 L174.00,191.78 L175.33,191.83 L176.67,191.89 L178.00,191.94 L179.33,192.01 L180.67,192.10 L182.00,192.20 L183.30,192.32 L184.55,192.44 L185.76,192.57 L186.95,192.70 L188.14,192.84 L189.35,192.99 L190.59,193.14 L191.89,193.30 L193.27,193.47 L194.73,193.64 L196.30,193.82 L198.00,194.00 L201.74,194.37 L205.95,194.77 L210.57,195.18 L215.54,195.61 L220.79,196.07 L226.25,196.55 L231.87,197.05 L237.57,197.58 L243.30,198.14 L248.99,198.73 L254.58,199.35 L260.00,200.00 L265.75,200.75 L271.66,201.57 L277.67,202.46 L283.76,203.38 L289.87,204.34 L295.96,205.32 L302.01,206.30 L307.96,207.27 L313.77,208.22 L319.41,209.14 L324.83,210.00 L330.00,210.80 L333.77,211.36 L337.47,211.91 L341.11,212.43 L344.67,212.93 L348.16,213.42 L351.56,213.90 L354.88,214.38 L358.11,214.85 L361.24,215.33 L364.27,215.81 L367.19,216.30 L370.00,216.80 L371.90,217.16 L373.71,217.53 L375.43,217.90 L377.09,218.28 L378.70,218.65 L380.28,219.02 L381.84,219.39 L383.40,219.76 L384.98,220.13 L386.60,220.49" fill="none" stroke="#72c046" stroke-width="4.6" stroke-linecap="round" stroke-linejoin="round"/>
<path d="M386.60,220.49 L388.27,220.85 L390.00,221.20 L392.02,221.58 L394.09,221.95 L396.19,222.30 L398.32,222.65 L400.48,222.99 L402.65,223.34 L404.82,223.68 L407.00,224.04 L409.18,224.40 L411.34,224.78 L413.48,225.18 L415.60,225.60 L417.70,226.04 L419.84,226.49 L422.02,226.96 L424.21,227.44 L426.40,227.94 L428.56,228.44 L430.68,228.95 L432.74,229.46 L434.72,229.98 L436.60,230.49 L438.37,231.00 L440.00,231.50 L440.97,231.82 L441.89,232.15 L442.76,232.47 L443.58,232.80 L444.38,233.12 L445.15,233.45 L445.90,233.78 L446.64,234.10 L447.38,234.43 L448.14,234.75 L448.91,235.08 L449.70,235.40 L450.52,235.71 L451.35,236.01 L452.20,236.29 L453.06,236.57 L453.91,236.84 L454.76,237.12 L455.60,237.42 L456.41,237.72 L457.21,238.05 L457.98,238.40 L458.71,238.78 L459.40,239.20 L459.99,239.60 L460.55,240.01 L461.11,240.43 L461.64,240.88 L462.15,241.33 L462.65,241.81 L463.13,242.30 L463.59,242.80 L464.02,243.33 L464.44,243.87 L464.83,244.43 L465.20,245.00 L465.57,245.63 L465.90,246.29 L466.21,246.97 L466.49,247.68 L466.74,248.40 L466.98,249.14 L467.20,249.89 L467.40,250.66 L467.59,251.43 L467.77,252.22 L467.94,253.01 L468.10,253.80 L468.27,254.70 L468.41,255.62 L468.52,256.55 L468.62,257.50 L468.69,258.46 L468.76,259.43 L468.82,260.41 L468.87,261.40 L468.92,262.39 L468.97,263.39 L469.03,264.39 L469.10,265.40 L469.18,266.50 L469.26,267.60 L469.34,268.72 L469.41,269.85 L469.48,270.99 L469.56,272.13 L469.63,273.28 L469.70,274.43 L469.77,275.57 L469.85,276.72 L469.92,277.86 L470.00,279.00 L470.08,280.12 L470.18,281.22 L470.28,282.31 L470.38,283.40 L470.49,284.48 L470.59,285.57 L470.69,286.67 L470.78,287.79 L470.85,288.94 L470.92,290.12" fill="none" stroke="#72c046" stroke-width="4.6" stroke-linecap="butt" stroke-linejoin="round" stroke-dasharray="3.8,1.6"/>
<path d="M470.92,290.12 L470.97,291.34 L471.00,292.60 L471.01,294.32 L470.98,296.12 L470.92,297.98 L470.84,299.89 L470.74,301.84 L470.63,303.83 L470.51,305.84 L470.39,307.87 L470.28,309.91 L470.17,311.95 L470.07,313.99 L470.00,316.00 L469.94,318.12 L469.88,320.25 L469.84,322.40 L469.79,324.56 L469.75,326.74 L469.71,328.91 L469.68,331.10 L469.65,333.28 L469.61,335.47 L469.58,337.65 L469.54,339.83 L469.50,342.00" fill="none" stroke="#72c046" stroke-width="1.1" stroke-dasharray="3,2"/>
<path d="M471.0,293.4 L473.3,298.0 L468.7,298.0Z" fill="#72c046"/>
<path d="M470.3,307.2 L472.6,311.8 L468.0,311.8Z" fill="#72c046"/>
<path d="M469.8,319.6 L472.1,324.2 L467.5,324.2Z" fill="#72c046"/>
<path d="M469.6,332.7 L471.9,337.3 L467.3,337.3Z" fill="#72c046"/>
<path d="M96.00,166.00 L96.84,166.47 L97.67,166.94 L98.48,167.42 L99.29,167.90 L100.11,168.38 L100.92,168.86 L101.75,169.33 L102.59,169.80 L103.45,170.26 L104.34,170.72 L105.25,171.16 L106.20,171.60 L107.40,172.11 L108.65,172.61 L109.94,173.08 L111.27,173.55 L112.62,174.01 L114.00,174.46 L115.39,174.91 L116.80,175.36 L118.21,175.81 L119.61,176.26 L121.01,176.73 L122.40,177.20 L123.86,177.71 L125.35,178.25 L126.86,178.80 L128.39,179.37 L129.92,179.93 L131.45,180.49 L132.97,181.04 L134.46,181.57 L135.92,182.08 L137.33,182.56 L138.70,183.00 L140.00,183.40 L140.92,183.67 L141.79,183.91 L142.63,184.14 L143.44,184.36 L144.23,184.55 L145.01,184.74 L145.79,184.93 L146.58,185.10 L147.39,185.27 L148.22,185.45 L149.09,185.62 L150.00,185.80 L151.20,186.02 L152.45,186.23 L153.73,186.42 L155.05,186.61 L156.40,186.79 L157.77,186.97 L159.15,187.15 L160.53,187.34 L161.92,187.53 L163.30,187.74 L164.66,187.96 L166.00,188.20 L167.34,188.46 L168.67,188.75 L170.00,189.05 L171.34,189.37 L172.67,189.70 L174.00,190.03 L175.33,190.35 L176.66,190.67 L177.99,190.98 L179.33,191.28 L180.66,191.55 L182.00,191.80 L183.30,192.02 L184.54,192.22 L185.74,192.39 L186.94,192.56 L188.13,192.71 L189.34,192.86 L190.58,193.00 L191.88,193.14 L193.26,193.29 L194.72,193.45 L196.30,193.61 L198.00,193.80 L201.74,194.19 L205.95,194.58 L210.57,194.99 L215.54,195.42 L220.78,195.86 L226.25,196.32 L231.87,196.81 L237.57,197.32 L243.30,197.86 L248.99,198.44 L254.58,199.05 L260.00,199.70 L265.73,200.46 L271.57,201.29 L277.49,202.19 L283.47,203.13 L289.47,204.11 L295.48,205.11 L301.46,206.11 L307.38,207.11 L313.23,208.08 L318.96,209.01 L324.56,209.89 L330.00,210.70 L334.46,211.34 L338.83,211.96 L343.11,212.56 L347.33,213.15 L351.48,213.71 L355.60,214.27 L359.67,214.80 L363.73,215.32 L367.78,215.83 L371.83,216.33 L375.90,216.82 L380.00,217.30 L384.02,217.75 L388.08,218.18 L392.15,218.60 L396.23,219.00 L400.30,219.39 L404.36,219.77 L408.37,220.14 L412.33,220.51 L416.23,220.88 L420.05,221.25 L423.78,221.62 L427.40,222.00 L430.36,222.31 L433.35,222.59 L436.36,222.87 L439.35,223.15 L442.30,223.42 L445.17,223.69 L447.95,223.98 L450.60,224.28 L453.10,224.59 L455.42,224.93 L457.53,225.30 L459.40,225.70 L460.26,225.91 L461.06,226.11 L461.82,226.30 L462.53,226.49 L463.20,226.69 L463.83,226.90 L464.44,227.12 L465.02,227.37 L465.58,227.63 L466.13,227.92 L466.67,228.24 L467.20,228.60 L467.70,228.97 L468.18,229.37 L468.65,229.78 L469.09,230.22 L469.53,230.68 L469.94,231.16 L470.33,231.66 L470.71,232.18 L471.06,232.71 L471.39,233.26 L471.71,233.82 L472.00,234.40 L472.30,235.09 L472.56,235.81 L472.78,236.57 L472.98,237.36 L473.15,238.17 L473.29,238.99 L473.43,239.83 L473.54,240.67 L473.66,241.51 L473.77,242.35 L473.88,243.18 L474.00,244.00 L474.12,244.81 L474.22,245.62 L474.32,246.44 L474.41,247.25 L474.49,248.07 L474.56,248.89 L474.63,249.71 L474.70,250.53 L474.77,251.35 L474.84,252.16 L474.92,252.98 L475.00,253.80" fill="none" stroke="#b45cc0" stroke-width="4.6" stroke-linecap="round" stroke-linejoin="round"/>
<path d="M95.00,138.70 L95.07,139.64 L95.13,140.59 L95.18,141.55 L95.23,142.50 L95.27,143.46 L95.32,144.41 L95.38,145.36 L95.45,146.31 L95.55,147.25 L95.67,148.17 L95.82,149.09 L96.00,150.00 L96.21,150.88 L96.43,151.78 L96.68,152.69 L96.95,153.60 L97.23,154.50 L97.54,155.39 L97.86,156.25 L98.20,157.09 L98.55,157.89 L98.92,158.65 L99.30,159.35 L99.70,160.00 L100.00,160.43 L100.29,160.81 L100.58,161.16 L100.88,161.49 L101.18,161.79 L101.50,162.08 L101.84,162.37 L102.19,162.66 L102.57,162.96 L102.98,163.28 L103.42,163.62 L103.90,164.00 L104.96,164.85 L106.18,165.81 L107.54,166.87 L109.02,168.00 L110.59,169.16 L112.23,170.35 L113.92,171.52 L115.65,172.66 L117.38,173.75 L119.10,174.75 L120.78,175.64 L122.40,176.40 L123.85,176.98 L125.34,177.48 L126.85,177.92 L128.38,178.30 L129.92,178.63 L131.45,178.93 L132.97,179.20 L134.46,179.44 L135.92,179.68 L137.34,179.91 L138.70,180.15 L140.00,180.40 L140.92,180.59 L141.80,180.77 L142.64,180.94 L143.45,181.10 L144.24,181.26 L145.02,181.40 L145.80,181.55 L146.59,181.70 L147.40,181.84 L148.23,181.99 L149.09,182.14 L150.00,182.30 L151.20,182.50 L152.45,182.69 L153.74,182.88 L155.06,183.07 L156.41,183.26 L157.77,183.46 L159.15,183.66 L160.54,183.86 L161.92,184.08 L163.30,184.30 L164.66,184.54 L166.00,184.80 L167.34,185.08 L168.67,185.39 L170.01,185.72 L171.34,186.07 L172.67,186.42 L174.00,186.78 L175.33,187.14 L176.66,187.49 L177.99,187.83 L179.33,188.14 L180.66,188.44 L182.00,188.70 L183.29,188.93 L184.54,189.13 L185.74,189.31 L186.93,189.47 L188.12,189.62 L189.34,189.76 L190.58,189.89 L191.89,190.03 L193.26,190.18 L194.73,190.33 L196.30,190.51 L198.00,190.70 L201.74,191.12 L205.95,191.58 L210.57,192.07 L215.53,192.59 L220.78,193.13 L226.24,193.69 L231.86,194.28 L237.56,194.88 L243.29,195.49 L248.99,196.12 L254.58,196.76 L260.00,197.40 L265.73,198.11 L271.56,198.86 L277.48,199.65 L283.46,200.47 L289.46,201.30 L295.47,202.13 L301.45,202.97" fill="none" stroke="#45a8e0" stroke-width="4.6" stroke-linecap="round" stroke-linejoin="round"/>
<path d="M301.45,202.97 L307.38,203.79 L313.22,204.60 L318.96,205.37 L324.56,206.11 L330.00,206.80 L334.49,207.35 L338.91,207.87 L343.28,208.37 L347.60,208.85 L351.85,209.32 L356.05,209.78 L360.19,210.23 L364.27,210.68 L368.29,211.12 L372.26,211.57 L376.16,212.03 L380.00,212.50 L383.20,212.88 L386.37,213.21 L389.51,213.52 L392.60,213.81 L395.66,214.11 L398.66,214.42 L401.62,214.75 L404.53,215.13 L407.39,215.56 L410.18,216.05 L412.92,216.63 L415.60,217.30 L417.84,217.98 L420.02,218.77 L422.15,219.65 L424.23,220.59 L426.27,221.56 L428.28,222.56 L430.26,223.55 L432.23,224.51 L434.17,225.41 L436.11,226.25 L438.05,226.98 L440.00,227.60 L441.70,228.02 L443.43,228.36 L445.17,228.63 L446.92,228.84 L448.66,229.02 L450.37,229.17 L452.05,229.32 L453.67,229.48 L455.23,229.66 L456.72,229.88 L458.11,230.15 L459.40,230.50 L460.20,230.76 L460.97,231.02 L461.71,231.28 L462.42,231.55 L463.10,231.83 L463.75,232.12 L464.38,232.44 L464.98,232.77 L465.56,233.13 L466.13,233.52 L466.67,233.94 L467.20,234.40 L467.72,234.91 L468.22,235.45 L468.68,236.03 L469.13,236.63 L469.55,237.26 L469.95,237.92 L470.34,238.60 L470.70,239.29 L471.05,240.00 L471.38,240.73 L471.70,241.46 L472.00,242.20 L472.32,243.06 L472.61,243.96 L472.87,244.89 L473.11,245.85 L473.32,246.82 L473.52,247.81 L473.70,248.81 L473.86,249.82 L474.03,250.83 L474.18,251.83 L474.34,252.82 L474.50,253.80 L474.66,254.76 L474.80,255.73 L474.94,256.69 L475.08,257.66 L475.20,258.63 L475.32,259.59 L475.43,260.56 L475.53,261.53 L475.63,262.50 L475.73,263.46 L475.81,264.43 L475.90,265.40 L475.98,266.37 L476.05,267.33 L476.11,268.30 L476.16,269.26 L476.21,270.23 L476.25,271.20 L476.29,272.16 L476.33,273.13 L476.37,274.10 L476.41,275.07 L476.45,276.03 L476.50,277.00" fill="none" stroke="#45a8e0" stroke-width="4.6" stroke-linecap="butt" stroke-linejoin="round" stroke-dasharray="8,1.0"/>
<path d="M95.00,146.50 L95.13,147.24 L95.26,147.98 L95.37,148.73 L95.49,149.48 L95.60,150.23 L95.71,150.98 L95.84,151.73 L95.97,152.46 L96.12,153.19 L96.29,153.91 L96.48,154.61 L96.70,155.30 L96.92,155.94 L97.14,156.58 L97.36,157.22 L97.60,157.85 L97.85,158.48 L98.11,159.09 L98.40,159.69 L98.71,160.28 L99.05,160.84 L99.43,161.39 L99.84,161.91 L100.30,162.40 L100.89,162.93 L101.53,163.42 L102.24,163.87 L102.98,164.29 L103.77,164.68 L104.59,165.06 L105.44,165.42 L106.30,165.77 L107.18,166.12 L108.06,166.47 L108.93,166.83 L109.80,167.20 L110.77,167.62 L111.76,168.05 L112.75,168.46 L113.76,168.88 L114.79,169.28 L115.83,169.69 L116.88,170.09 L117.95,170.48 L119.04,170.87 L120.14,171.25 L121.26,171.63 L122.40,172.00 L123.74,172.42 L125.09,172.83 L126.46,173.22 L127.84,173.61 L129.25,173.99 L130.68,174.37 L132.14,174.74 L133.64,175.11 L135.17,175.48 L136.73,175.85 L138.34,176.22 L140.00,176.60 L142.28,177.10 L144.67,177.59 L147.15,178.09 L149.72,178.57 L152.34,179.06 L155.02,179.55 L157.71,180.05 L160.42,180.54 L163.12,181.04 L165.80,181.55 L168.43,182.07 L171.00,182.60 L173.44,183.12 L175.84,183.63 L178.22,184.15 L180.58,184.68 L182.93,185.20 L185.28,185.74" fill="none" stroke="#e8204a" stroke-width="4.6" stroke-linecap="round" stroke-linejoin="round"/>
<path d="M185.28,185.74 L187.65,186.28 L190.04,186.84 L192.45,187.40 L194.92,187.99 L197.43,188.58 L200.00,189.20 L203.13,189.96 L206.37,190.78 L209.69,191.63 L213.07,192.50 L216.50,193.40 L219.95,194.30 L223.41,195.20 L226.84,196.09 L230.24,196.95 L233.58,197.78 L236.84,198.57 L240.00,199.30 L242.64,199.89 L245.24,200.45 L247.79,200.99 L250.30,201.51 L252.79,202.02 L255.25,202.51 L257.70,202.98 L260.15,203.45 L262.59,203.91 L265.04,204.37 L267.51,204.84 L270.00,205.30 L272.50,205.76 L275.00,206.22 L277.49,206.67 L279.99,207.12 L282.49,207.56 L284.99,207.99 L287.49,208.42 L289.99,208.85 L292.49,209.27" fill="none" stroke="#e8204a" stroke-width="4.6" stroke-linecap="butt" stroke-linejoin="round" stroke-dasharray="3,2.2"/>
<path d="M292.49,209.27 L295.00,209.68 L297.50,210.09 L300.00,210.50 L302.47,210.90 L304.91,211.29 L307.32,211.67 L309.71,212.05 L312.11,212.42 L314.51,212.79 L316.95,213.16 L319.43,213.53 L321.96,213.89 L324.55,214.26 L327.23,214.63 L330.00,215.00 L333.70,215.49 L337.54,216.00 L341.49,216.51 L345.55,217.03 L349.69,217.56 L353.91,218.07 L358.19,218.58 L362.51,219.07 L366.87,219.54 L371.25,219.99 L375.63,220.41 L380.00,220.80 L384.89,221.18 L390.00,221.51 L395.26,221.80 L400.62,222.07 L406.02,222.31 L411.40,222.53 L416.70,222.75 L421.86,222.97 L426.83,223.19 L431.55,223.44 L435.96,223.70 L440.00,224.00 L442.36,224.20 L444.64,224.42 L446.86,224.65 L448.99,224.88 L451.05,225.11 L453.03,225.35 L454.94,225.58 L456.77,225.80 L458.52,226.02 L460.19,226.23 L461.79,226.42 L463.30,226.60 L464.19,226.68 L465.05,226.72 L465.88,226.73 L466.69,226.73 L467.46,226.73 L468.21,226.73 L468.92,226.76 L469.60,226.81 L470.25,226.91 L470.87,227.07 L471.45,227.30 L472.00,227.60 L472.48,227.96 L472.93,228.36 L473.34,228.82 L473.72,229.31 L474.07,229.85 L474.39,230.42 L474.69,231.03 L474.97,231.66 L475.23,232.32 L475.47,233.00 L475.69,233.69 L475.90,234.40 L476.15,235.45 L476.33,236.59 L476.45,237.81 L476.53,239.08 L476.56,240.40 L476.56,241.76 L476.54,243.14 L476.51,244.54 L476.48,245.94 L476.47,247.32 L476.47,248.68 L476.50,250.00" fill="none" stroke="#f0507a" stroke-width="1.3" stroke-linejoin="round"/>
<circle cx="300.0" cy="210.5" r="2.1" fill="#e8204a"/>
<circle cx="314.5" cy="212.8" r="2.1" fill="#e8204a"/>
<circle cx="330.0" cy="215.0" r="2.1" fill="#e8204a"/>
<circle cx="345.5" cy="217.0" r="2.1" fill="#e8204a"/>
<circle cx="362.5" cy="219.1" r="2.1" fill="#e8204a"/>
<circle cx="375.6" cy="220.4" r="2.1" fill="#e8204a"/>
<circle cx="390.0" cy="221.5" r="2.1" fill="#e8204a"/>
<circle cx="406.0" cy="222.3" r="2.1" fill="#e8204a"/>
<circle cx="421.9" cy="223.0" r="2.1" fill="#e8204a"/>
<circle cx="436.0" cy="223.7" r="2.1" fill="#e8204a"/>
<circle cx="449.0" cy="224.9" r="2.1" fill="#e8204a"/>
<circle cx="463.3" cy="226.6" r="2.1" fill="#e8204a"/>
<circle cx="474.7" cy="231.0" r="2.1" fill="#e8204a"/>
<circle cx="476.5" cy="244.5" r="2.1" fill="#e8204a"/>
<path d="M95.00,124.50 L95.04,125.30 L95.06,126.10 L95.07,126.92 L95.07,127.73 L95.08,128.55 L95.09,129.36 L95.11,130.17 L95.15,130.97 L95.21,131.75 L95.30,132.52 L95.43,133.27 L95.60,134.00 L95.78,134.65 L95.99,135.28 L96.22,135.90 L96.46,136.50 L96.73,137.10 L97.01,137.69 L97.31,138.27 L97.63,138.84 L97.97,139.41 L98.33,139.98 L98.71,140.54 L99.10,141.10 L99.57,141.73 L100.07,142.37 L100.59,143.00 L101.14,143.63 L101.72,144.25 L102.31,144.86 L102.92,145.46 L103.55,146.05 L104.20,146.62 L104.86,147.17 L105.52,147.70 L106.20,148.20 L106.90,148.69 L107.62,149.15 L108.34,149.59 L109.08,150.00 L109.83,150.40 L110.60,150.78 L111.39,151.15 L112.20,151.52 L113.04,151.88 L113.90,152.25 L114.78,152.62 L115.70,153.00 L116.98,153.51 L118.32,154.01 L119.73,154.51 L121.19,155.01 L122.70,155.50 L124.23,155.98 L125.78,156.47 L127.35,156.95 L128.91,157.44 L130.46,157.92 L132.00,158.41 L133.50,158.90 L134.98,159.40 L136.45,159.90 L137.92,160.42 L139.39,160.93 L140.86,161.45 L142.33,161.96 L143.80,162.47 L145.28,162.97 L146.77,163.45 L148.26,163.92 L149.78,164.37 L151.30,164.80 L152.88,165.22 L154.46,165.62 L156.04,166.01 L157.63,166.38 L159.22,166.74 L160.82,167.08 L162.45,167.42 L164.09,167.74 L165.77,168.06 L167.47,168.38 L169.22,168.69 L171.00,169.00" fill="none" stroke="#3556c0" stroke-width="4.6" stroke-linecap="round" stroke-linejoin="round"/>
<path d="M171.00,169.00 L173.19,169.37 L175.41,169.72 L177.66,170.07 L179.95,170.40 L182.27,170.72 L184.64,171.04 L187.06,171.35 L189.53,171.65 L192.06,171.94 L194.64,172.23 L197.29,172.52 L200.00,172.80 L203.69,173.15 L207.55,173.45 L211.55,173.73 L215.66,173.99 L219.88,174.24 L224.16,174.49 L228.49,174.74 L232.85,175.02 L237.20,175.32 L241.52,175.67 L245.80,176.05 L250.00,176.50 L254.14,177.00 L258.21,177.54 L262.24,178.11 L266.25,178.72 L270.26,179.36 L274.28,180.02 L278.35,180.70 L282.48,181.40 L286.68,182.11 L290.99,182.83 L295.43,183.57 L300.00,184.30 L306.11,185.27 L312.62,186.30 L319.43,187.38 L326.47,188.50 L333.63,189.64 L340.83,190.79 L347.99,191.94 L355.01,193.06 L361.81,194.16 L368.30,195.20 L374.39,196.19 L380.00,197.10 L383.48,197.66 L386.80,198.18 L389.99,198.68 L393.06,199.16 L396.03,199.62 L398.92,200.07 L401.75,200.52 L404.53,200.98 L407.29,201.45 L410.04,201.94 L412.81,202.45 L415.60,203.00 L418.18,203.53 L420.77,204.10 L423.35,204.68 L425.92,205.28 L428.46,205.89 L430.98,206.50 L433.46,207.12 L435.90,207.73 L438.27,208.32 L440.59,208.91 L442.83,209.47 L445.00,210.00 L446.60,210.39 L448.17,210.77 L449.70,211.14 L451.19,211.51 L452.65,211.87 L454.08,212.22 L455.49,212.57 L456.87,212.91 L458.23,213.26 L459.57,213.60 L460.89,213.95 L462.20,214.30 L463.32,214.58 L464.48,214.84 L465.65,215.08 L466.82,215.31 L467.98,215.54 L469.11,215.78 L470.19,216.04 L471.21,216.31 L472.14,216.62 L472.98,216.96 L473.70,217.36 L474.30,217.80 L474.59,218.09 L474.83,218.38 L475.04,218.69 L475.21,219.01 L475.35,219.33 L475.47,219.67 L475.57,220.02 L475.65,220.39 L475.73,220.76 L475.82,221.16 L475.90,221.57 L476.00,222.00 L476.15,222.70 L476.27,223.45 L476.37,224.26 L476.45,225.11 L476.52,225.99 L476.58,226.90 L476.63,227.82 L476.68,228.75 L476.72,229.69 L476.77,230.61 L476.83,231.52 L476.90,232.40" fill="none" stroke="#3556c0" stroke-width="4.6" stroke-linecap="butt" stroke-linejoin="round" stroke-dasharray="5.5,1.2"/>
<path d="M96.50,126.00 L96.78,126.46 L97.05,126.93 L97.31,127.39 L97.57,127.86 L97.82,128.33 L98.08,128.80 L98.35,129.26 L98.63,129.72 L98.93,130.18 L99.26,130.63 L99.61,131.07 L100.00,131.50 L100.52,132.02 L101.09,132.53 L101.71,133.02 L102.36,133.51 L103.03,134.00 L103.73,134.47 L104.44,134.94 L105.17,135.40 L105.89,135.86 L106.61,136.31 L107.31,136.76 L108.00,137.20 L108.66,137.63 L109.32,138.04 L109.99,138.45 L110.65,138.86 L111.32,139.25 L111.99,139.65 L112.66,140.04 L113.33,140.43 L114.00,140.82 L114.66,141.21 L115.33,141.60 L116.00,142.00 L116.67,142.40 L117.33,142.80 L118.00,143.20 L118.67,143.60 L119.33,144.00 L120.00,144.41 L120.67,144.81 L121.33,145.21 L122.00,145.61 L122.67,146.01 L123.33,146.40 L124.00,146.80 L124.66,147.20 L125.33,147.61 L125.99,148.02 L126.65,148.44 L127.31,148.86 L127.97,149.27 L128.64,149.67 L129.30,150.07 L129.97,150.45 L130.64,150.82 L131.32,151.17 L132.00,151.50 L132.64,151.79 L133.27,152.07 L133.88,152.33 L134.50,152.58 L135.11,152.81 L135.74,153.04 L136.37,153.26 L137.03,153.47 L137.72,153.68 L138.44,153.89 L139.20,154.09 L140.00,154.30 L141.35,154.61 L142.82,154.91 L144.40,155.19 L146.06,155.46 L147.79,155.72 L149.56,155.98 L151.36,156.23 L153.16,156.47 L154.94,156.72 L156.69,156.97 L158.38,157.23 L160.00,157.50 L161.39,157.75 L162.75,158.00 L164.09,158.25 L165.40,158.50 L166.70,158.76 L168.00,159.01 L169.30,159.26 L170.60,159.52 L171.91,159.77 L173.25,160.02 L174.61,160.26 L176.00,160.50 L177.59,160.77 L179.23,161.04 L180.89,161.31 L182.58,161.59 L184.28,161.86 L185.99,162.12 L187.70,162.38 L189.41,162.63 L191.10,162.87 L192.77,163.10 L194.40,163.31 L196.00,163.50 L197.37,163.65 L198.69,163.80 L199.96,163.93 L201.21,164.04 L202.44,164.15 L203.68,164.26 L204.93,164.35 L206.22,164.44 L207.56,164.53 L208.96,164.62 L210.43,164.71 L212.00,164.80 L214.58,164.93 L217.34,165.03 L220.24,165.12 L223.27,165.19 L226.42,165.26 L229.66,165.33 L232.98,165.40 L236.35,165.48 L239.76,165.57 L243.18,165.69 L246.60,165.83 L250.00,166.00 L253.89,166.23 L257.81,166.48 L261.75,166.75 L265.73,167.03 L269.76,167.34 L273.85,167.67 L278.00,168.02 L282.22,168.38 L286.52,168.76 L290.92,169.16 L295.40,169.57 L300.00,170.00 L306.08,170.59 L312.49,171.26 L319.18,171.98 L326.05,172.74 L333.06,173.53 L340.13,174.33 L347.19,175.13 L354.18,175.92 L361.02,176.67 L367.65,177.38 L374.00,178.03 L380.00,178.60 L384.45,178.98 L388.88,179.30 L393.26,179.58 L397.57,179.83 L401.80,180.06 L405.93,180.28 L409.93,180.51 L413.79,180.76 L417.48,181.04 L421.00,181.37 L424.31,181.75 L427.40,182.20 L429.20,182.51 L430.91,182.82 L432.55,183.15 L434.12,183.49 L435.63,183.84 L437.08,184.20 L438.49,184.58 L439.85,184.97 L441.18,185.38 L442.47,185.80 L443.74,186.24 L445.00,186.70 L445.97,187.08 L446.91,187.48 L447.81,187.88 L448.68,188.30 L449.53,188.73 L450.36,189.17 L451.18,189.61 L452.00,190.06 L452.81,190.52 L453.63,190.98 L454.46,191.44 L455.30,191.90 L456.19,192.37 L457.09,192.83 L458.02,193.30 L458.95,193.76 L459.87,194.23 L460.80,194.71 L461.70,195.20 L462.58,195.70 L463.43,196.22 L464.24,196.76 L465.00,197.32 L465.70,197.90 L466.26,198.41 L466.79,198.95 L467.29,199.49 L467.78,200.05 L468.23,200.63 L468.67,201.21 L469.09,201.80 L469.48,202.39 L469.86,202.99 L470.22,203.60 L470.57,204.20 L470.90,204.80 L471.19,205.35 L471.46,205.89 L471.70,206.43 L471.93,206.96 L472.15,207.51 L472.35,208.05 L472.54,208.61 L472.72,209.19 L472.90,209.78 L473.07,210.39 L473.23,211.03 L473.40,211.70 L473.62,212.68 L473.82,213.73 L474.01,214.84 L474.18,216.00 L474.33,217.19 L474.48,218.40 L474.61,219.63 L474.74,220.85 L474.86,222.06 L474.98,223.25 L475.09,224.40 L475.20,225.50 L475.29,226.42 L475.37,227.33 L475.45,228.22 L475.52,229.10 L475.58,229.97 L475.64,230.84 L475.70,231.70 L475.76,232.55 L475.82,233.41 L475.87,234.27 L475.94,235.13 L476.00,236.00" fill="none" stroke="#f15a24" stroke-width="4.6" stroke-linecap="round" stroke-linejoin="round"/>
<path d="M100.00,140.00 L100.67,140.24 L101.33,140.48 L102.00,140.72 L102.67,140.96 L103.33,141.20 L104.00,141.44 L104.67,141.68 L105.34,141.92 L106.00,142.16 L106.67,142.41 L107.33,142.65 L108.00,142.90 L108.66,143.15 L109.30,143.42 L109.93,143.68 L110.56,143.95 L111.18,144.23 L111.81,144.50 L112.45,144.77 L113.11,145.03 L113.79,145.29 L114.49,145.54 L115.23,145.77 L116.00,146.00 L117.15,146.29 L118.40,146.56 L119.72,146.81 L121.11,147.05 L122.54,147.28 L123.98,147.50 L125.43,147.70 L126.86,147.91 L128.25,148.10 L129.59,148.30 L130.84,148.50 L132.00,148.70 L132.75,148.84 L133.45,148.98 L134.11,149.11 L134.74,149.24 L135.35,149.37 L135.95,149.50 L136.55,149.62 L137.17,149.75 L137.81,149.88 L138.49,150.02 L139.21,150.16 L140.00,150.30 L141.36,150.54 L142.84,150.78 L144.42,151.04 L146.08,151.30 L147.81,151.57 L149.58,151.84 L151.37,152.11 L153.17,152.39 L154.95,152.67 L156.69,152.95 L158.38,153.23 L160.00,153.50 L161.39,153.74 L162.75,153.98 L164.09,154.22 L165.40,154.46 L166.71,154.69 L168.01,154.93 L169.30,155.18 L170.61,155.42 L171.92,155.68 L173.26,155.94 L174.61,156.22 L176.00,156.50 L177.60,156.84 L179.23,157.20 L180.90,157.58 L182.58,157.98 L184.29,158.38 L186.00,158.79 L187.71,159.19 L189.41,159.59 L191.10,159.97 L192.76,160.34 L194.40,160.68 L196.00,161.00 L197.37,161.26 L198.68,161.49 L199.96,161.70 L201.20,161.91 L202.44,162.10 L203.68,162.29 L204.93,162.47 L206.22,162.66 L207.56,162.85 L208.96,163.05 L210.43,163.27 L212.00,163.50 L214.58,163.89 L217.34,164.29 L220.24,164.71 L223.27,165.15 L226.42,165.60 L229.66,166.06 L232.98,166.54 L236.35,167.02 L239.76,167.51 L243.18,168.00 L246.60,168.50 L250.00,169.00 L253.89,169.57 L257.80,170.14 L261.75,170.72 L265.73,171.30 L269.76,171.89 L273.85,172.50 L278.00,173.11 L282.22,173.75 L286.52,174.40 L290.92,175.07 L295.41,175.77 L300.00,176.50 L306.08,177.47 L312.50,178.51 L319.18,179.59 L326.06,180.72 L333.08,181.88 L340.15,183.05 L347.21,184.24 L354.20,185.43 L361.04,186.61 L367.67,187.78 L374.01,188.91 L380.00,190.00 L384.46,190.85 L388.89,191.74 L393.26,192.66 L397.57,193.59 L401.79,194.51 L405.90,195.41 L409.90,196.28 L413.75,197.09 L417.44,197.83 L420.96,198.49 L424.29,199.05 L427.40,199.50 L429.16,199.70 L430.82,199.83 L432.40,199.90 L433.90,199.94 L435.35,199.96 L436.75,199.96 L438.13,199.97 L439.48,199.99 L440.83,200.04 L442.20,200.14 L443.58,200.28 L445.00,200.50 L446.47,200.79 L447.95,201.12 L449.45,201.50 L450.94,201.91 L452.44,202.35 L453.92,202.82 L455.38,203.30 L456.82,203.79 L458.23,204.28 L459.60,204.77 L460.93,205.24 L462.20,205.70 L463.18,206.06 L464.16,206.43 L465.13,206.80 L466.09,207.19 L467.03,207.57 L467.94,207.95 L468.82,208.32 L469.66,208.69 L470.47,209.04 L471.23,209.38 L471.94,209.70 L472.60,210.00 L472.96,210.16 L473.31,210.29 L473.65,210.41 L473.98,210.53 L474.30,210.64 L474.60,210.75 L474.88,210.86 L475.15,210.99 L475.39,211.13 L475.62,211.29 L475.82,211.48 L476.00,211.70 L476.15,211.97 L476.27,212.27 L476.35,212.59 L476.41,212.94 L476.44,213.31 L476.45,213.69 L476.46,214.08 L476.45,214.47 L476.45,214.86 L476.45,215.25 L476.47,215.63 L476.50,216.00" fill="none" stroke="#6cc24a" stroke-width="4.6" stroke-linecap="round" stroke-linejoin="round"/>
<path d="M95.50,112.50 L95.56,112.96 L95.61,113.42 L95.65,113.87 L95.70,114.33 L95.74,114.78 L95.79,115.24 L95.84,115.70 L95.90,116.16 L95.96,116.62 L96.03,117.08 L96.11,117.54 L96.20,118.00 L96.31,118.50 L96.42,119.01 L96.53,119.53 L96.66,120.05 L96.79,120.58 L96.92,121.10 L97.07,121.62 L97.23,122.13 L97.40,122.62 L97.59,123.10 L97.79,123.56 L98.00,124.00 L98.20,124.37 L98.41,124.73 L98.63,125.09 L98.86,125.43 L99.10,125.77 L99.35,126.10 L99.60,126.41 L99.87,126.71 L100.14,127.00 L100.42,127.28 L100.71,127.55 L101.00,127.80 L101.28,128.02 L101.56,128.22 L101.84,128.41 L102.13,128.58 L102.42,128.75 L102.73,128.90 L103.04,129.05 L103.37,129.19 L103.72,129.34 L104.09,129.49 L104.48,129.64 L104.90,129.80 L105.71,130.08 L106.61,130.36 L107.59,130.62 L108.64,130.89 L109.74,131.15 L110.89,131.42 L112.06,131.69 L113.25,131.96 L114.44,132.25 L115.62,132.55 L116.78,132.87 L117.90,133.20 L119.08,133.58 L120.28,133.97 L121.50,134.38 L122.73,134.81 L123.96,135.25 L125.19,135.70 L126.41,136.15 L127.60,136.61 L128.76,137.06 L129.89,137.52 L130.97,137.96 L132.00,138.40 L132.74,138.74 L133.43,139.07 L134.08,139.42 L134.70,139.76 L135.30,140.10 L135.90,140.44 L136.50,140.78 L137.12,141.11 L137.77,141.44 L138.46,141.77 L139.20,142.09 L140.00,142.40 L141.34,142.86 L142.81,143.31 L144.38,143.75 L146.04,144.18 L147.77,144.61 L149.54,145.02 L151.34,145.42 L153.14,145.81 L154.93,146.20 L156.68,146.57 L158.38,146.94 L160.00,147.30 L161.39,147.61 L162.74,147.91 L164.08,148.20 L165.39,148.47 L166.70,148.75 L167.99,149.01 L169.29,149.27 L170.60,149.54 L171.91,149.80 L173.25,150.06 L174.61,150.33 L176.00,150.60 L177.59,150.91 L179.23,151.23 L180.89,151.55 L182.58,151.88 L184.28,152.20 L185.99,152.52 L187.71,152.84 L189.41,153.15 L191.10,153.46 L192.77,153.75 L194.40,154.03 L196.00,154.30 L197.37,154.52 L198.69,154.73 L199.96,154.93 L201.21,155.11 L202.44,155.29 L203.68,155.47 L204.94,155.64 L206.22,155.82 L207.56,156.00 L208.96,156.19 L210.43,156.39 L212.00,156.60 L214.58,156.95 L217.33,157.32 L220.24,157.71 L223.27,158.11 L226.42,158.53 L229.66,158.95 L232.97,159.37 L236.34,159.80 L239.75,160.22 L243.17,160.62 L246.60,161.02 L250.00,161.40 L253.96,161.82 L258.08,162.23 L262.31,162.64 L266.62,163.03 L270.99,163.43 L275.36,163.81 L279.72,164.19 L284.02,164.56 L288.23,164.93 L292.32,165.29 L296.26,165.65 L300.00,166.00 L302.74,166.27 L305.35,166.53 L307.86,166.79 L310.28,167.04 L312.65,167.29 L315.00,167.54 L317.34,167.78 L319.72,168.03 L322.14,168.27 L324.64,168.51 L327.26,168.76 L330.00,169.00 L333.71,169.30 L337.55,169.59 L341.50,169.85 L345.56,170.11 L349.71,170.37 L353.93,170.63 L358.21,170.91 L362.54,171.20 L366.89,171.52 L371.27,171.87 L375.64,172.26 L380.00,172.70 L384.90,173.22 L390.00,173.75 L395.24,174.31 L400.57,174.90 L405.94,175.52 L411.29,176.17 L416.57,176.86 L421.73,177.59 L426.70,178.37 L431.44,179.19 L435.89,180.07 L440.00,181.00 L442.61,181.67 L445.16,182.38 L447.64,183.14 L450.06,183.91 L452.39,184.71 L454.64,185.52 L456.78,186.34 L458.82,187.15 L460.74,187.95 L462.53,188.73 L464.19,189.48 L465.70,190.20 L466.47,190.56 L467.20,190.89 L467.90,191.20 L468.57,191.50 L469.20,191.80 L469.80,192.10 L470.36,192.41 L470.88,192.75 L471.37,193.12 L471.81,193.52 L472.23,193.98 L472.60,194.50 L472.96,195.17 L473.23,195.91 L473.44,196.71 L473.58,197.56 L473.67,198.45 L473.73,199.38 L473.77,200.32 L473.79,201.28 L473.81,202.24 L473.85,203.18 L473.91,204.11 L474.00,205.00" fill="none" stroke="#f2e41c" stroke-width="4.6" stroke-linecap="round" stroke-linejoin="round"/>
<path d="M94.80,116.00 L95.00,116.42 L95.18,116.84 L95.36,117.28 L95.54,117.71 L95.72,118.15 L95.90,118.59 L96.09,119.01 L96.28,119.43 L96.49,119.83 L96.71,120.21 L96.95,120.57 L97.20,120.90 L97.43,121.17 L97.67,121.42 L97.92,121.65 L98.17,121.86 L98.43,122.07 L98.70,122.26 L98.99,122.45 L99.28,122.64 L99.59,122.82 L99.91,123.01 L100.25,123.20 L100.60,123.40 L101.17,123.70 L101.79,124.01 L102.45,124.31 L103.14,124.62 L103.87,124.92 L104.62,125.22 L105.39,125.52 L106.16,125.81 L106.94,126.09 L107.71,126.37 L108.46,126.64 L109.20,126.90 L109.92,127.15 L110.64,127.38 L111.36,127.61 L112.09,127.83 L112.81,128.05 L113.54,128.26 L114.27,128.47 L115.00,128.67 L115.72,128.88 L116.45,129.08 L117.18,129.29 L117.90,129.50 L118.62,129.71 L119.36,129.92 L120.10,130.13 L120.84,130.34 L121.59,130.55 L122.33,130.76 L123.06,130.96 L123.78,131.17 L124.49,131.38 L125.18,131.59 L125.85,131.79 L126.50,132.00 L127.00,132.17 L127.48,132.33 L127.94,132.49 L128.39,132.64 L128.83,132.80 L129.27,132.96 L129.71,133.12 L130.14,133.29 L130.59,133.46 L131.04,133.63 L131.51,133.81 L132.00,134.00 L132.60,134.24 L133.21,134.49 L133.81,134.75 L134.42,135.02 L135.04,135.30 L135.67,135.58 L136.32,135.86 L136.99,136.15 L137.69,136.44 L138.43,136.73 L139.19,137.02 L140.00,137.30 L141.35,137.75 L142.82,138.21 L144.40,138.69 L146.06,139.17 L147.78,139.66 L149.55,140.15 L151.35,140.63 L153.14,141.10 L154.93,141.55 L156.68,141.99 L158.38,142.41 L160.00,142.80 L161.39,143.12 L162.74,143.41 L164.07,143.69 L165.39,143.95 L166.70,144.19 L168.00,144.44 L169.29,144.67 L170.60,144.92 L171.92,145.17 L173.25,145.43 L174.61,145.70 L176.00,146.00 L177.60,146.36 L179.23,146.75 L180.90,147.17 L182.58,147.60 L184.29,148.03 L185.99,148.47 L187.70,148.91 L189.41,149.33 L191.09,149.74 L192.76,150.13 L194.40,150.48 L196.00,150.80 L197.37,151.05 L198.68,151.27 L199.95,151.46 L201.20,151.64 L202.44,151.80 L203.68,151.95 L204.93,152.10 L206.22,152.26 L207.56,152.42 L208.96,152.59 L210.43,152.79 L212.00,153.00 L214.58,153.37 L217.34,153.78 L220.24,154.21 L223.27,154.67 L226.42,155.14 L229.66,155.63 L232.97,156.12 L236.34,156.62 L239.75,157.11 L243.17,157.59 L246.60,158.06 L250.00,158.50 L253.89,158.99 L257.80,159.47 L261.74,159.95 L265.72,160.41 L269.74,160.87 L273.83,161.33 L277.98,161.78 L282.20,162.23 L286.51,162.68 L290.90,163.12 L295.40,163.56 L300.00,164.00 L306.11,164.55 L312.62,165.10 L319.43,165.65 L326.46,166.19 L333.62,166.73 L340.82,167.26 L347.98,167.79 L355.01,168.31 L361.81,168.82 L368.30,169.32 L374.39,169.82 L380.00,170.30 L383.48,170.61 L386.80,170.90 L389.99,171.19 L393.06,171.46 L396.03,171.73 L398.91,172.00 L401.74,172.28 L404.53,172.56 L407.28,172.87 L410.04,173.19 L412.80,173.53 L415.60,173.90 L418.18,174.26 L420.76,174.64 L423.35,175.04 L425.92,175.45 L428.47,175.87 L430.99,176.31 L433.47,176.75 L435.90,177.20 L438.28,177.65 L440.60,178.10 L442.84,178.55 L445.00,179.00 L446.62,179.34 L448.21,179.68 L449.78,180.01 L451.32,180.35 L452.82,180.68 L454.29,181.02 L455.72,181.37 L457.11,181.73 L458.45,182.10 L459.75,182.48 L461.00,182.88 L462.20,183.30 L463.06,183.61 L463.91,183.92 L464.74,184.22 L465.54,184.53 L466.33,184.84 L467.09,185.16 L467.81,185.50 L468.51,185.86 L469.17,186.25 L469.79,186.66 L470.37,187.11 L470.90,187.60 L471.33,188.07 L471.73,188.57 L472.09,189.10 L472.41,189.64 L472.71,190.21 L472.98,190.80 L473.23,191.40 L473.47,192.01 L473.69,192.63 L473.90,193.25 L474.10,193.88 L474.30,194.50 L474.50,195.16 L474.68,195.83 L474.83,196.50 L474.97,197.19 L475.10,197.88 L475.21,198.58 L475.31,199.29 L475.39,200.01 L475.48,200.74 L475.55,201.48 L475.63,202.23 L475.70,203.00 L475.78,203.93 L475.83,204.88 L475.88,205.85 L475.91,206.84 L475.93,207.85 L475.94,208.87 L475.95,209.89 L475.95,210.92 L475.96,211.95 L475.97,212.98 L475.98,213.99 L476.00,215.00" fill="none" stroke="#a6d045" stroke-width="4.6" stroke-linecap="round" stroke-linejoin="round"/>
<path d="M94.80,101.90 L95.00,102.41 L95.19,102.92 L95.38,103.43 L95.57,103.94 L95.75,104.45 L95.94,104.97 L96.14,105.48 L96.33,105.98 L96.54,106.49 L96.75,107.00 L96.97,107.50 L97.20,108.00 L97.45,108.51 L97.70,109.03 L97.95,109.55 L98.22,110.07 L98.49,110.59 L98.76,111.11 L99.05,111.62 L99.34,112.12 L99.64,112.61 L99.95,113.09 L100.27,113.55 L100.60,114.00 L100.92,114.41 L101.25,114.81 L101.59,115.20 L101.94,115.58 L102.29,115.96 L102.65,116.33 L103.02,116.68 L103.39,117.03 L103.77,117.36 L104.14,117.69 L104.52,118.00 L104.90,118.30 L105.24,118.56 L105.58,118.80 L105.91,119.03 L106.24,119.24 L106.58,119.45 L106.92,119.65 L107.27,119.85 L107.63,120.05 L108.00,120.25 L108.38,120.46 L108.78,120.67 L109.20,120.90 L109.81,121.23 L110.47,121.58 L111.15,121.94 L111.86,122.30 L112.59,122.68 L113.35,123.05 L114.11,123.43 L114.87,123.80 L115.64,124.16 L116.41,124.52 L117.16,124.87 L117.90,125.20 L118.62,125.51 L119.35,125.82 L120.09,126.13 L120.83,126.43 L121.57,126.72 L122.31,127.01 L123.04,127.29 L123.77,127.57 L124.48,127.84 L125.17,128.10 L125.85,128.35 L126.50,128.60 L127.00,128.79 L127.48,128.96 L127.94,129.12 L128.39,129.27 L128.83,129.42 L129.27,129.57 L129.71,129.72 L130.15,129.88 L130.59,130.04 L131.05,130.21 L131.51,130.40 L132.00,130.60 L132.61,130.87 L133.21,131.16 L133.81,131.47 L134.42,131.79 L135.03,132.12 L135.67,132.46 L136.31,132.80 L136.99,133.15 L137.69,133.49 L138.42,133.84 L139.19,134.17 L140.00,134.50 L141.34,135.00 L142.81,135.50 L144.39,136.02 L146.05,136.53 L147.77,137.04 L149.54,137.55 L151.34,138.05 L153.14,138.54 L154.92,139.01 L156.68,139.46 L158.38,139.89 L160.00,140.30 L161.38,140.63 L162.74,140.94 L164.07,141.23 L165.39,141.51 L166.69,141.77 L167.99,142.02 L169.29,142.27 L170.60,142.52 L171.91,142.77 L173.25,143.04 L174.61,143.31 L176.00,143.60 L177.60,143.95 L179.23,144.31 L180.90,144.68 L182.58,145.07 L184.29,145.45 L186.00,145.84 L187.71,146.23 L189.41,146.61 L191.10,146.98 L192.77,147.34 L194.40,147.68 L196.00,148.00 L197.37,148.26 L198.69,148.51 L199.96,148.75 L201.20,148.98 L202.44,149.19 L203.68,149.41 L204.93,149.62 L206.22,149.83 L207.56,150.04 L208.95,150.25 L210.43,150.47 L212.00,150.70 L214.58,151.06 L217.33,151.43 L220.23,151.79 L223.27,152.16 L226.42,152.54 L229.66,152.92 L232.97,153.30 L236.35,153.69 L239.75,154.08 L243.18,154.48 L246.60,154.89 L250.00,155.30 L253.89,155.77 L257.80,156.24 L261.75,156.71 L265.73,157.18 L269.76,157.65 L273.85,158.14 L278.00,158.64 L282.22,159.16 L286.53,159.70 L290.92,160.27 L295.41,160.87 L300.00,161.50 L306.08,162.37 L312.50,163.31 L319.18,164.33 L326.06,165.39 L333.07,166.49 L340.14,167.61 L347.20,168.73 L354.19,169.84 L361.03,170.93 L367.65,171.98 L374.00,172.98 L380.00,173.90 L384.46,174.54 L388.89,175.10 L393.29,175.62 L397.62,176.10 L401.86,176.57 L405.99,177.04 L410.00,177.53 L413.86,178.06 L417.55,178.66 L421.05,179.33 L424.34,180.11 L427.40,181.00 L429.24,181.64 L431.00,182.31 L432.68,183.02 L434.28,183.76 L435.81,184.52 L437.28,185.31 L438.69,186.11 L440.04,186.92 L441.34,187.74 L442.60,188.57 L443.82,189.39 L445.00,190.20 L445.87,190.82 L446.69,191.45 L447.47,192.09 L448.22,192.73 L448.94,193.38 L449.63,194.03 L450.31,194.68 L450.97,195.33 L451.63,195.98 L452.28,196.62 L452.94,197.26 L453.60,197.90 L454.22,198.47 L454.86,199.04 L455.49,199.59 L456.13,200.13 L456.76,200.68 L457.38,201.23 L457.98,201.78 L458.55,202.35 L459.10,202.93 L459.61,203.53 L460.08,204.15 L460.50,204.80 L460.86,205.45 L461.17,206.11 L461.45,206.79 L461.69,207.49 L461.91,208.20 L462.11,208.92 L462.29,209.65 L462.45,210.39 L462.61,211.14 L462.77,211.89 L462.93,212.64 L463.10,213.40 L463.28,214.23 L463.46,215.08 L463.62,215.94 L463.78,216.82 L463.93,217.70 L464.07,218.59 L464.20,219.48 L464.33,220.36 L464.45,221.24 L464.57,222.11 L464.69,222.96 L464.80,223.80 L464.90,224.54 L464.99,225.28 L465.07,226.00 L465.15,226.72 L465.22,227.44 L465.29,228.15 L465.36,228.86 L465.42,229.56 L465.49,230.27 L465.56,230.98 L465.63,231.69 L465.70,232.40" fill="none" stroke="#68bd45" stroke-width="4.6" stroke-linecap="round" stroke-linejoin="round"/>
<path d="M95.80,94.00 L95.79,94.43 L95.75,94.87 L95.69,95.33 L95.63,95.80 L95.57,96.26 L95.52,96.72 L95.48,97.17 L95.47,97.59 L95.48,98.00 L95.54,98.37 L95.64,98.71 L95.80,99.00 L96.01,99.22 L96.28,99.40 L96.61,99.53 L96.97,99.63 L97.36,99.72 L97.76,99.79 L98.17,99.86 L98.57,99.93 L98.94,100.03 L99.28,100.14 L99.57,100.30 L99.80,100.50 L99.96,100.72 L100.08,100.96 L100.18,101.23 L100.24,101.51 L100.29,101.81 L100.33,102.11 L100.36,102.43 L100.38,102.75 L100.41,103.07 L100.46,103.39 L100.52,103.70 L100.60,104.00 L100.71,104.33 L100.82,104.67 L100.93,105.02 L101.06,105.37 L101.18,105.72 L101.32,106.07 L101.46,106.42 L101.61,106.76 L101.76,107.09 L101.93,107.41 L102.11,107.71 L102.30,108.00 L102.48,108.25 L102.68,108.49 L102.88,108.72 L103.08,108.95 L103.30,109.16 L103.52,109.37 L103.75,109.57 L103.99,109.76 L104.23,109.95 L104.48,110.14 L104.74,110.32 L105.00,110.50 L105.30,110.69 L105.61,110.87 L105.93,111.03 L106.25,111.19 L106.58,111.34 L106.92,111.48 L107.28,111.62 L107.64,111.77 L108.01,111.92 L108.39,112.07 L108.79,112.23 L109.20,112.40 L109.81,112.66 L110.47,112.93 L111.15,113.22 L111.86,113.51 L112.60,113.82 L113.35,114.12 L114.11,114.43 L114.88,114.73 L115.65,115.04 L116.41,115.33 L117.16,115.62 L117.90,115.90 L118.61,116.17 L119.31,116.43 L120.00,116.69 L120.69,116.95 L121.38,117.21 L122.08,117.46 L122.78,117.71 L123.49,117.95 L124.21,118.19 L124.95,118.43 L125.71,118.67 L126.50,118.90 L127.49,119.18 L128.50,119.45 L129.55,119.71 L130.61,119.98 L131.70,120.23 L132.80,120.48 L133.92,120.73 L135.05,120.97 L136.19,121.21 L137.32,121.44 L138.46,121.67 L139.60,121.90 L140.82,122.13 L142.04,122.36 L143.28,122.58 L144.53,122.79 L145.78,123.00 L147.04,123.21 L148.31,123.41 L149.58,123.61 L150.86,123.80 L152.14,124.00 L153.42,124.20 L154.70,124.40 L156.03,124.61 L157.37,124.81 L158.71,125.02 L160.05,125.23 L161.40,125.43 L162.76,125.63 L164.12,125.83 L165.48,126.03 L166.85,126.23 L168.23,126.42 L169.61,126.61 L171.00,126.80 L172.43,126.99 L173.82,127.18 L175.18,127.36 L176.54,127.53 L177.89,127.70 L179.27,127.87 L180.70,128.05 L182.17,128.22 L183.73,128.40 L185.37,128.59 L187.12,128.79 L189.00,129.00 L192.89,129.42 L197.32,129.87 L202.21,130.36 L207.45,130.87 L212.94,131.40 L218.58,131.94 L224.27,132.48 L229.92,133.02 L235.41,133.55 L240.66,134.06 L245.55,134.55 L250.00,135.00 L252.86,135.29 L255.56,135.57 L258.14,135.83 L260.63,136.08 L263.04,136.32 L265.40,136.56 L267.74,136.81 L270.08,137.07 L272.45,137.34 L274.88,137.63 L277.39,137.95 L280.00,138.30 L283.13,138.74 L286.33,139.23 L289.58,139.75 L292.88,140.30 L296.21,140.87 L299.58,141.45 L302.97,142.03 L306.38,142.62 L309.79,143.19 L313.21,143.75 L316.61,144.29 L320.00,144.80 L323.49,145.29 L327.03,145.77 L330.62,146.23 L334.23,146.68 L337.85,147.13 L341.47,147.56 L345.05,148.00 L348.59,148.43 L352.08,148.86 L355.48,149.30 L358.80,149.75 L362.00,150.20 L364.56,150.59 L367.10,150.99 L369.61,151.40 L372.08,151.82 L374.51,152.25 L376.90,152.66 L379.23,153.07 L381.52,153.47 L383.74,153.84 L385.90,154.19 L387.99,154.51 L390.00,154.80 L391.41,154.98 L392.77,155.12 L394.08,155.24 L395.35,155.34 L396.59,155.43 L397.80,155.51 L399.00,155.60 L400.19,155.71 L401.38,155.83 L402.57,155.98 L403.77,156.17 L405.00,156.40 L406.25,156.67 L407.47,156.97 L408.68,157.29 L409.87,157.64 L411.06,158.00 L412.26,158.39 L413.48,158.79 L414.71,159.21 L415.97,159.64 L417.27,160.08 L418.61,160.54 L420.00,161.00 L421.96,161.66 L424.05,162.37 L426.23,163.12 L428.49,163.91 L430.79,164.72 L433.13,165.55 L435.46,166.39 L437.78,167.22 L440.06,168.04 L442.27,168.83 L444.39,169.59 L446.40,170.30 L447.93,170.83 L449.45,171.34 L450.94,171.82 L452.41,172.29 L453.85,172.75 L455.26,173.21 L456.65,173.67 L457.99,174.13 L459.30,174.62 L460.58,175.12 L461.81,175.64 L463.00,176.20 L463.94,176.66 L464.86,177.13 L465.78,177.60 L466.67,178.08 L467.54,178.57 L468.38,179.07 L469.20,179.58 L469.97,180.11 L470.70,180.65 L471.39,181.21 L472.02,181.79 L472.60,182.40 L473.03,182.92 L473.43,183.45 L473.80,183.99 L474.14,184.55 L474.44,185.12 L474.73,185.70 L474.99,186.29 L475.22,186.88 L475.44,187.48 L475.64,188.09 L475.83,188.69 L476.00,189.30 L476.15,189.91 L476.27,190.51 L476.36,191.12 L476.42,191.73 L476.47,192.35 L476.50,192.97 L476.52,193.61 L476.53,194.25 L476.54,194.91 L476.55,195.59 L476.57,196.29 L476.60,197.00 L476.65,197.96 L476.69,198.96 L476.73,199.98 L476.76,201.04 L476.79,202.12 L476.82,203.22 L476.84,204.33 L476.86,205.46 L476.88,206.59 L476.89,207.73 L476.90,208.87 L476.90,210.00 L476.90,211.24 L476.89,212.50 L476.87,213.78 L476.85,215.07 L476.82,216.36 L476.79,217.66 L476.76,218.97 L476.72,220.28 L476.69,221.59 L476.66,222.90 L476.63,224.20 L476.60,225.50" fill="none" stroke="#2f4fb4" stroke-width="4.6" stroke-linecap="round" stroke-linejoin="round"/><path d="M266.00,154.40 L268.84,154.71 L271.69,155.02 L274.55,155.32 L277.42,155.62 L280.28,155.92 L283.14,156.22 L285.99,156.52 L288.83,156.83 L291.66,157.16 L294.46,157.49 L297.24,157.84 L300.00,158.20 L302.57,158.57 L305.10,158.96 L307.61,159.37 L310.11,159.80 L312.58,160.24 L315.05,160.68 L317.52,161.11 L319.99,161.54 L322.47,161.94 L324.96,162.33 L327.47,162.68 L330.00,163.00 L332.62,163.29 L335.23,163.53 L337.85,163.75 L340.48,163.95 L343.11,164.12 L345.76,164.28 L348.42,164.44 L351.09,164.61 L353.78,164.78 L356.50,164.96 L359.24,165.17 L362.00,165.40 L365.07,165.68 L368.20,165.98 L371.38,166.29 L374.60,166.61 L377.83,166.94 L381.08,167.28 L384.33,167.63 L387.55,167.98 L390.74,168.34 L393.89,168.69 L396.98,169.05 L400.00,169.40 L402.66,169.71 L405.32,170.02 L407.98,170.33 L410.62,170.64 L413.24,170.95 L415.82,171.27 L418.36,171.59 L420.84,171.91 L423.25,172.25 L425.59,172.59 L427.84,172.94 L430.00,173.30 L431.51,173.57 L432.96,173.85 L434.36,174.14 L435.71,174.43 L437.03,174.72 L438.32,175.02 L439.59,175.31 L440.86,175.61 L442.12,175.91 L443.39,176.21 L444.68,176.51 L446.00,176.80" fill="none" stroke="#f6a02a" stroke-width="2" stroke-dasharray="1.6,2.8"/></g>
<g><path d="M589.00,178.00 L589.14,179.25 L589.27,180.52 L589.39,181.78 L589.50,183.05 L589.61,184.32 L589.73,185.59 L589.86,186.85 L590.00,188.10 L590.16,189.35 L590.34,190.58 L590.56,191.80 L590.80,193.00 L591.05,194.14 L591.32,195.28 L591.60,196.42 L591.90,197.55 L592.21,198.68 L592.54,199.79 L592.89,200.89 L593.26,201.97 L593.66,203.02 L594.08,204.05 L594.52,205.04 L595.00,206.00 L595.45,206.83 L595.91,207.64 L596.38,208.43 L596.88,209.20 L597.39,209.96 L597.92,210.69 L598.48,211.41 L599.05,212.10 L599.65,212.78 L600.28,213.44 L600.93,214.08 L601.60,214.70 L602.36,215.33 L603.16,215.94 L604.01,216.51 L604.88,217.05 L605.78,217.58 L606.70,218.09 L607.64,218.58 L608.58,219.07 L609.52,219.55 L610.46,220.03 L611.39,220.51 L612.30,221.00 L613.17,221.48 L614.03,221.95 L614.87,222.40 L615.71,222.85 L616.54,223.30 L617.39,223.74 L618.25,224.18 L619.13,224.63 L620.04,225.08 L620.98,225.54 L621.97,226.01 L623.00,226.50 L624.53,227.19 L626.15,227.89 L627.84,228.60 L629.60,229.32 L631.42,230.05 L633.28,230.79 L635.17,231.55 L637.08,232.32 L639.00,233.11 L640.92,233.92 L642.82,234.75 L644.70,235.60 L646.75,236.57 L648.82,237.59 L650.90,238.65 L653.00,239.74 L655.10,240.85 L657.21,241.97 L659.34,243.09 L661.46,244.22 L663.59,245.33 L665.73,246.42 L667.86,247.48 L670.00,248.50 L672.13,249.49 L674.26,250.47 L676.40,251.45 L678.54,252.41 L680.68,253.35 L682.83,254.29 L684.99,255.21 L687.14,256.12 L689.30,257.01 L691.47,257.89 L693.63,258.75 L695.80,259.60 L697.94,260.42 L700.09,261.23 L702.24,262.04 L704.39,262.82 L706.54,263.60 L708.70,264.35 L710.86,265.10 L713.03,265.82 L715.19,266.52 L717.36,267.20 L719.53,267.86 L721.70,268.50 L723.84,269.10 L725.98,269.67 L728.12,270.22 L730.27,270.74 L732.42,271.24 L734.57,271.73 L736.72,272.21 L738.88,272.67 L741.03,273.13 L743.19,273.59 L745.34,274.04 L747.50,274.50 L749.65,274.95 L751.81,275.39 L753.97,275.81 L756.12,276.23 L758.28,276.64 L760.44,277.05 L762.61,277.45 L764.77,277.85 L766.93,278.26 L769.09,278.67 L771.24,279.08 L773.40,279.50 L775.54,279.93 L777.68,280.36 L779.80,280.80 L781.92,281.24 L784.03,281.68 L786.16,282.12 L788.29,282.56 L790.43,283.00 L792.58,283.43 L794.76,283.86 L796.97,284.28 L799.20,284.70 L801.66,285.15 L804.15,285.58 L806.65,286.01 L809.18,286.44 L811.73,286.86 L814.29,287.28 L816.88,287.70 L819.48,288.11 L822.09,288.53 L824.71,288.95 L827.35,289.37 L830.00,289.80 L832.84,290.25 L835.68,290.68 L838.54,291.10 L841.40,291.52 L844.29,291.94 L847.19,292.37 L850.12,292.80 L853.07,293.26 L856.05,293.74 L859.07,294.26 L862.11,294.81 L865.20,295.40 L868.83,296.11 L872.59,296.83 L876.46,297.57 L880.39,298.34 L884.37,299.14 L888.34,299.98 L892.29,300.87 L896.18,301.81 L899.98,302.80 L903.66,303.86 L907.17,304.99 L910.50,306.20 L913.09,307.25 L915.60,308.37 L918.05,309.54 L920.42,310.76 L922.74,312.01 L925.00,313.30 L927.21,314.61 L929.37,315.93 L931.48,317.26 L933.55,318.58 L935.59,319.90 L937.60,321.20 L939.28,322.30 L940.93,323.40 L942.53,324.50 L944.11,325.61 L945.65,326.71 L947.16,327.83 L948.64,328.95 L950.10,330.08 L951.53,331.22 L952.94,332.37 L954.33,333.53 L955.70,334.70 L956.95,335.79 L958.19,336.89 L959.40,337.99 L960.60,339.11 L961.78,340.23 L962.94,341.36 L964.07,342.49 L965.17,343.64 L966.25,344.79 L967.30,345.95 L968.32,347.12 L969.30,348.30 L970.18,349.41 L971.05,350.56 L971.90,351.73 L972.73,352.92 L973.54,354.12 L974.32,355.32 L975.07,356.50 L975.79,357.66 L976.47,358.79 L977.12,359.88 L977.73,360.92 L978.30,361.90 L978.65,362.52 L978.98,363.12 L979.28,363.69 L979.56,364.25 L979.83,364.80 L980.09,365.33 L980.34,365.85 L980.58,366.38 L980.83,366.90 L981.08,367.42 L981.33,367.96 L981.60,368.50" fill="none" stroke="#5cbf3c" stroke-width="4.0" stroke-linecap="round" stroke-linejoin="round"/>
<path d="M589.00,169.40 L589.05,170.12 L589.09,170.84 L589.12,171.56 L589.14,172.28 L589.17,173.00 L589.20,173.72 L589.23,174.44 L589.28,175.15 L589.35,175.87 L589.44,176.58 L589.56,177.29 L589.70,178.00 L589.88,178.73 L590.07,179.45 L590.29,180.17 L590.52,180.89 L590.77,181.60 L591.05,182.32 L591.33,183.03 L591.64,183.74 L591.95,184.45 L592.29,185.17 L592.64,185.88 L593.00,186.60 L593.42,187.42 L593.84,188.27 L594.28,189.13 L594.73,190.00 L595.21,190.87 L595.70,191.73 L596.23,192.58 L596.78,193.40 L597.37,194.19 L598.00,194.95 L598.68,195.65 L599.40,196.30 L600.25,196.94 L601.15,197.52 L602.11,198.04 L603.11,198.52 L604.16,198.95 L605.24,199.36 L606.36,199.75 L607.50,200.12 L608.68,200.50 L609.87,200.88 L611.08,201.28 L612.30,201.70 L613.90,202.26 L615.56,202.80 L617.29,203.35 L619.07,203.89 L620.89,204.43 L622.74,204.96 L624.61,205.50 L626.49,206.03 L628.37,206.57 L630.24,207.11 L632.08,207.65 L633.90,208.20 L635.71,208.75 L637.54,209.31 L639.38,209.88 L641.23,210.45 L643.08,211.02 L644.92,211.59 L646.74,212.16 L648.55,212.72 L650.32,213.28 L652.06,213.83 L653.76,214.37 L655.40,214.90 L656.70,215.33 L657.95,215.74 L659.15,216.15 L660.32,216.54 L661.47,216.94 L662.62,217.33 L663.76,217.73 L664.93,218.12 L666.12,218.53 L667.36,218.94 L668.64,219.36 L670.00,219.80 L671.89,220.40 L673.87,221.01 L675.93,221.64 L678.05,222.28 L680.23,222.93 L682.44,223.58 L684.68,224.25 L686.93,224.92 L689.18,225.59 L691.41,226.26 L693.63,226.93 L695.80,227.60 L697.96,228.27 L700.12,228.96 L702.27,229.65 L704.43,230.34 L706.59,231.04 L708.74,231.74 L710.90,232.43 L713.06,233.12 L715.22,233.81 L717.38,234.48 L719.54,235.15 L721.70,235.80 L723.85,236.44 L725.99,237.07 L728.14,237.71 L730.28,238.33 L732.43,238.95 L734.58,239.56 L736.73,240.17 L738.88,240.76 L741.03,241.34 L743.18,241.91 L745.34,242.46 L747.50,243.00 L749.65,243.52 L751.80,244.03 L753.96,244.53 L756.11,245.01 L758.27,245.49 L760.43,245.95 L762.59,246.40 L764.75,246.84 L766.91,247.27 L769.08,247.69 L771.24,248.10 L773.40,248.50 L775.54,248.88 L777.67,249.24 L779.79,249.59 L781.91,249.93 L784.03,250.26 L786.15,250.57 L788.28,250.88 L790.42,251.19 L792.58,251.49 L794.76,251.79 L796.97,252.09 L799.20,252.40 L801.66,252.73 L804.15,253.05 L806.66,253.37 L809.19,253.68 L811.73,253.98 L814.30,254.29 L816.88,254.59 L819.48,254.90 L822.09,255.21 L824.72,255.53 L827.35,255.86 L830.00,256.20 L832.84,256.57 L835.68,256.93 L838.54,257.30 L841.40,257.66 L844.28,258.04 L847.19,258.42 L850.11,258.81 L853.06,259.21 L856.04,259.63 L859.06,260.07 L862.11,260.52 L865.20,261.00 L868.78,261.57 L872.43,262.18 L876.14,262.80 L879.89,263.46 L883.69,264.13 L887.51,264.81 L891.35,265.51 L895.20,266.22 L899.05,266.94 L902.89,267.66 L906.71,268.38 L910.50,269.10 L914.34,269.82 L918.28,270.54 L922.30,271.27 L926.35,272.00 L930.40,272.74 L934.42,273.48 L938.36,274.24 L942.19,275.00 L945.88,275.78 L949.38,276.57 L952.67,277.38 L955.70,278.20 L957.55,278.74 L959.34,279.27 L961.07,279.81 L962.74,280.36 L964.35,280.91 L965.89,281.46 L967.38,282.02 L968.80,282.60 L970.15,283.18 L971.44,283.77 L972.65,284.38 L973.80,285.00 L974.53,285.42 L975.22,285.84 L975.88,286.27 L976.51,286.70 L977.11,287.13 L977.68,287.57 L978.23,288.01 L978.75,288.47 L979.24,288.93 L979.72,289.41 L980.17,289.90 L980.60,290.40 L980.95,290.85 L981.27,291.32 L981.56,291.80 L981.83,292.29 L982.08,292.78 L982.32,293.28 L982.54,293.79 L982.77,294.29 L982.99,294.80 L983.21,295.30 L983.45,295.80 L983.70,296.30" fill="none" stroke="#2f4fb4" stroke-width="4.0" stroke-linecap="round" stroke-linejoin="round"/>
<path d="M589.00,168.30 L589.14,168.85 L589.26,169.42 L589.38,170.00 L589.48,170.58 L589.59,171.16 L589.70,171.74 L589.83,172.31 L589.97,172.86 L590.13,173.39 L590.32,173.89 L590.54,174.37 L590.80,174.80 L591.06,175.15 L591.34,175.49 L591.64,175.80 L591.97,176.09 L592.30,176.36 L592.66,176.62 L593.02,176.87 L593.40,177.11 L593.79,177.34 L594.19,177.56 L594.59,177.78 L595.00,178.00 L595.47,178.24 L595.94,178.46 L596.42,178.66 L596.91,178.84 L597.41,179.02 L597.93,179.19 L598.47,179.35 L599.04,179.51 L599.63,179.68 L600.25,179.84 L600.91,180.02 L601.60,180.20 L602.95,180.54 L604.45,180.89 L606.07,181.25 L607.81,181.61 L609.63,181.98 L611.51,182.34 L613.44,182.71 L615.39,183.08 L617.35,183.44 L619.28,183.80 L621.17,184.15 L623.00,184.50 L624.80,184.84 L626.61,185.17 L628.41,185.50 L630.22,185.83 L632.03,186.15 L633.84,186.47 L635.66,186.79 L637.47,187.11 L639.28,187.43 L641.09,187.75 L642.89,188.07 L644.70,188.40 L646.48,188.73 L648.25,189.05 L650.00,189.36 L651.75,189.68 L653.50,190.00 L655.25,190.32 L657.01,190.64 L658.79,190.98 L660.59,191.32 L662.42,191.66 L664.29,192.03 L666.20,192.40 L668.51,192.86 L670.89,193.34 L673.32,193.83 L675.80,194.34 L678.31,194.86 L680.84,195.39 L683.38,195.92 L685.91,196.46 L688.43,197.00 L690.93,197.54 L693.39,198.07 L695.80,198.60 L698.02,199.10 L700.22,199.60 L702.40,200.11 L704.56,200.62 L706.72,201.13 L708.86,201.64 L711.00,202.15 L713.13,202.66 L715.26,203.16 L717.40,203.65 L719.55,204.13 L721.70,204.60 L723.85,205.06 L726.00,205.51 L728.14,205.96 L730.29,206.41 L732.44,206.85 L734.59,207.28 L736.74,207.70 L738.89,208.12 L741.04,208.53 L743.19,208.93 L745.34,209.32 L747.50,209.70 L749.65,210.07 L751.81,210.42 L753.96,210.77 L756.12,211.11 L758.28,211.43 L760.44,211.75 L762.60,212.07 L764.76,212.38 L766.92,212.69 L769.08,212.99 L771.24,213.30 L773.40,213.60 L775.54,213.90 L777.67,214.20 L779.80,214.50 L781.91,214.79 L784.03,215.08 L786.15,215.37 L788.29,215.65 L790.43,215.93 L792.59,216.21 L794.76,216.47 L796.97,216.74 L799.20,217.00 L801.66,217.28 L804.15,217.54 L806.66,217.81 L809.18,218.06 L811.73,218.31 L814.30,218.56 L816.88,218.80 L819.48,219.04 L822.09,219.28 L824.71,219.52 L827.35,219.76 L830.00,220.00 L832.84,220.25 L835.68,220.49 L838.53,220.73 L841.40,220.95 L844.28,221.18 L847.18,221.41 L850.10,221.64 L853.06,221.89 L856.04,222.14 L859.05,222.41 L862.11,222.69 L865.20,223.00 L868.78,223.37 L872.43,223.76 L876.13,224.17 L879.89,224.59 L883.68,225.03 L887.51,225.48 L891.35,225.94 L895.20,226.42 L899.05,226.90 L902.89,227.39 L906.71,227.89 L910.50,228.40 L914.34,228.91 L918.28,229.43 L922.30,229.95 L926.35,230.48 L930.40,231.03 L934.41,231.58 L938.35,232.15 L942.18,232.72 L945.86,233.32 L949.37,233.93 L952.66,234.55 L955.70,235.20 L957.54,235.62 L959.33,236.03 L961.06,236.43 L962.73,236.84 L964.34,237.25 L965.90,237.68 L967.38,238.12 L968.81,238.58 L970.16,239.06 L971.45,239.57 L972.66,240.12 L973.80,240.70 L974.54,241.12 L975.24,241.55 L975.91,241.99 L976.54,242.45 L977.14,242.91 L977.71,243.39 L978.25,243.88 L978.77,244.38 L979.26,244.89 L979.73,245.42 L980.17,245.95 L980.60,246.50 L980.96,247.02 L981.29,247.55 L981.58,248.10 L981.85,248.66 L982.10,249.23 L982.34,249.81 L982.56,250.39 L982.78,250.98 L982.99,251.57 L983.22,252.15 L983.45,252.73 L983.70,253.30" fill="none" stroke="#ee2124" stroke-width="4.4" stroke-linecap="round" stroke-linejoin="round"/><path d="M589.3,156.8 L591.6,160.6 L589.3,163.6 L587,160.6Z" fill="#7cc25a"/><circle cx="589.3" cy="167.6" r="2.2" fill="#f07048"/><path d="M983.6,368.6 L985.8,372.4 L981.4,372.4Z" fill="#5cbf3c"/><path d="M983.6,374.2 L985.8,378.0 L981.4,378.0Z" fill="#5cbf3c"/><path d="M983.6,380.2 L985.8,384.0 L981.4,384.0Z" fill="#5cbf3c"/></g>
</svg>
</body></html>
